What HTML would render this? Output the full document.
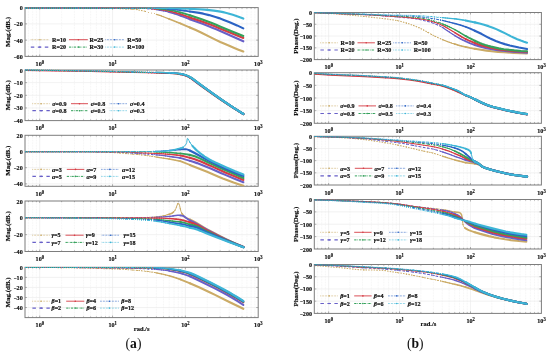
<!DOCTYPE html>
<html><head><meta charset="utf-8"><title>Bode plots</title><style>
html,body{margin:0;padding:0;background:#fff;}
svg{display:block;}
text{stroke:#111;stroke-width:0.16px;font-family:"Liberation Serif","Times New Roman",serif;fill:#111;}
.gM{stroke:#e9e9e9;stroke-width:0.6;fill:none;}
.gm{stroke:#ececec;stroke-width:0.6;stroke-dasharray:0.8 0.8;fill:none;}
.tk{stroke:#7d7d7d;stroke-width:0.6;fill:none;}
.ax{stroke:#7d7d7d;stroke-width:1.0;fill:none;}
.yl{font-size:6.1px;font-weight:bold;text-anchor:end;}
.xl{font-size:6.1px;font-weight:bold;text-anchor:middle;}
.sup{font-size:4.6px;}
.lab{font-size:6.5px;font-weight:bold;text-anchor:middle;}
.big{font-size:13.6px;text-anchor:middle;stroke:none;}
.lg{font-size:6.1px;font-weight:bold;stroke-width:0.2px;}
.gk{font-style:italic;}
</style></head>
<body><svg width="550" height="353" viewBox="0 0 550 353">
<line x1="28.43" y1="7.6" x2="28.43" y2="56.4" class="gm"/>
<line x1="32.65" y1="7.6" x2="32.65" y2="56.4" class="gm"/>
<line x1="36.38" y1="7.6" x2="36.38" y2="56.4" class="gm"/>
<line x1="61.64" y1="7.6" x2="61.64" y2="56.4" class="gm"/>
<line x1="74.46" y1="7.6" x2="74.46" y2="56.4" class="gm"/>
<line x1="83.56" y1="7.6" x2="83.56" y2="56.4" class="gm"/>
<line x1="90.62" y1="7.6" x2="90.62" y2="56.4" class="gm"/>
<line x1="96.38" y1="7.6" x2="96.38" y2="56.4" class="gm"/>
<line x1="101.26" y1="7.6" x2="101.26" y2="56.4" class="gm"/>
<line x1="105.48" y1="7.6" x2="105.48" y2="56.4" class="gm"/>
<line x1="109.21" y1="7.6" x2="109.21" y2="56.4" class="gm"/>
<line x1="134.46" y1="7.6" x2="134.46" y2="56.4" class="gm"/>
<line x1="147.29" y1="7.6" x2="147.29" y2="56.4" class="gm"/>
<line x1="156.39" y1="7.6" x2="156.39" y2="56.4" class="gm"/>
<line x1="163.45" y1="7.6" x2="163.45" y2="56.4" class="gm"/>
<line x1="169.21" y1="7.6" x2="169.21" y2="56.4" class="gm"/>
<line x1="174.09" y1="7.6" x2="174.09" y2="56.4" class="gm"/>
<line x1="178.31" y1="7.6" x2="178.31" y2="56.4" class="gm"/>
<line x1="182.04" y1="7.6" x2="182.04" y2="56.4" class="gm"/>
<line x1="207.29" y1="7.6" x2="207.29" y2="56.4" class="gm"/>
<line x1="220.12" y1="7.6" x2="220.12" y2="56.4" class="gm"/>
<line x1="229.22" y1="7.6" x2="229.22" y2="56.4" class="gm"/>
<line x1="236.28" y1="7.6" x2="236.28" y2="56.4" class="gm"/>
<line x1="242.04" y1="7.6" x2="242.04" y2="56.4" class="gm"/>
<line x1="246.92" y1="7.6" x2="246.92" y2="56.4" class="gm"/>
<line x1="251.14" y1="7.6" x2="251.14" y2="56.4" class="gm"/>
<line x1="254.87" y1="7.6" x2="254.87" y2="56.4" class="gm"/>
<line x1="39.71" y1="7.6" x2="39.71" y2="56.4" class="gM"/>
<line x1="112.54" y1="7.6" x2="112.54" y2="56.4" class="gM"/>
<line x1="185.37" y1="7.6" x2="185.37" y2="56.4" class="gM"/>
<line x1="25" y1="40.13" x2="258.2" y2="40.13" class="gM"/>
<line x1="25" y1="23.87" x2="258.2" y2="23.87" class="gM"/>
<line x1="28.43" y1="70" x2="28.43" y2="120.6" class="gm"/>
<line x1="32.65" y1="70" x2="32.65" y2="120.6" class="gm"/>
<line x1="36.38" y1="70" x2="36.38" y2="120.6" class="gm"/>
<line x1="61.64" y1="70" x2="61.64" y2="120.6" class="gm"/>
<line x1="74.46" y1="70" x2="74.46" y2="120.6" class="gm"/>
<line x1="83.56" y1="70" x2="83.56" y2="120.6" class="gm"/>
<line x1="90.62" y1="70" x2="90.62" y2="120.6" class="gm"/>
<line x1="96.38" y1="70" x2="96.38" y2="120.6" class="gm"/>
<line x1="101.26" y1="70" x2="101.26" y2="120.6" class="gm"/>
<line x1="105.48" y1="70" x2="105.48" y2="120.6" class="gm"/>
<line x1="109.21" y1="70" x2="109.21" y2="120.6" class="gm"/>
<line x1="134.46" y1="70" x2="134.46" y2="120.6" class="gm"/>
<line x1="147.29" y1="70" x2="147.29" y2="120.6" class="gm"/>
<line x1="156.39" y1="70" x2="156.39" y2="120.6" class="gm"/>
<line x1="163.45" y1="70" x2="163.45" y2="120.6" class="gm"/>
<line x1="169.21" y1="70" x2="169.21" y2="120.6" class="gm"/>
<line x1="174.09" y1="70" x2="174.09" y2="120.6" class="gm"/>
<line x1="178.31" y1="70" x2="178.31" y2="120.6" class="gm"/>
<line x1="182.04" y1="70" x2="182.04" y2="120.6" class="gm"/>
<line x1="207.29" y1="70" x2="207.29" y2="120.6" class="gm"/>
<line x1="220.12" y1="70" x2="220.12" y2="120.6" class="gm"/>
<line x1="229.22" y1="70" x2="229.22" y2="120.6" class="gm"/>
<line x1="236.28" y1="70" x2="236.28" y2="120.6" class="gm"/>
<line x1="242.04" y1="70" x2="242.04" y2="120.6" class="gm"/>
<line x1="246.92" y1="70" x2="246.92" y2="120.6" class="gm"/>
<line x1="251.14" y1="70" x2="251.14" y2="120.6" class="gm"/>
<line x1="254.87" y1="70" x2="254.87" y2="120.6" class="gm"/>
<line x1="39.71" y1="70" x2="39.71" y2="120.6" class="gM"/>
<line x1="112.54" y1="70" x2="112.54" y2="120.6" class="gM"/>
<line x1="185.37" y1="70" x2="185.37" y2="120.6" class="gM"/>
<line x1="25" y1="107.95" x2="258.2" y2="107.95" class="gM"/>
<line x1="25" y1="95.3" x2="258.2" y2="95.3" class="gM"/>
<line x1="25" y1="82.65" x2="258.2" y2="82.65" class="gM"/>
<line x1="28.43" y1="135.3" x2="28.43" y2="186.3" class="gm"/>
<line x1="32.65" y1="135.3" x2="32.65" y2="186.3" class="gm"/>
<line x1="36.38" y1="135.3" x2="36.38" y2="186.3" class="gm"/>
<line x1="61.64" y1="135.3" x2="61.64" y2="186.3" class="gm"/>
<line x1="74.46" y1="135.3" x2="74.46" y2="186.3" class="gm"/>
<line x1="83.56" y1="135.3" x2="83.56" y2="186.3" class="gm"/>
<line x1="90.62" y1="135.3" x2="90.62" y2="186.3" class="gm"/>
<line x1="96.38" y1="135.3" x2="96.38" y2="186.3" class="gm"/>
<line x1="101.26" y1="135.3" x2="101.26" y2="186.3" class="gm"/>
<line x1="105.48" y1="135.3" x2="105.48" y2="186.3" class="gm"/>
<line x1="109.21" y1="135.3" x2="109.21" y2="186.3" class="gm"/>
<line x1="134.46" y1="135.3" x2="134.46" y2="186.3" class="gm"/>
<line x1="147.29" y1="135.3" x2="147.29" y2="186.3" class="gm"/>
<line x1="156.39" y1="135.3" x2="156.39" y2="186.3" class="gm"/>
<line x1="163.45" y1="135.3" x2="163.45" y2="186.3" class="gm"/>
<line x1="169.21" y1="135.3" x2="169.21" y2="186.3" class="gm"/>
<line x1="174.09" y1="135.3" x2="174.09" y2="186.3" class="gm"/>
<line x1="178.31" y1="135.3" x2="178.31" y2="186.3" class="gm"/>
<line x1="182.04" y1="135.3" x2="182.04" y2="186.3" class="gm"/>
<line x1="207.29" y1="135.3" x2="207.29" y2="186.3" class="gm"/>
<line x1="220.12" y1="135.3" x2="220.12" y2="186.3" class="gm"/>
<line x1="229.22" y1="135.3" x2="229.22" y2="186.3" class="gm"/>
<line x1="236.28" y1="135.3" x2="236.28" y2="186.3" class="gm"/>
<line x1="242.04" y1="135.3" x2="242.04" y2="186.3" class="gm"/>
<line x1="246.92" y1="135.3" x2="246.92" y2="186.3" class="gm"/>
<line x1="251.14" y1="135.3" x2="251.14" y2="186.3" class="gm"/>
<line x1="254.87" y1="135.3" x2="254.87" y2="186.3" class="gm"/>
<line x1="39.71" y1="135.3" x2="39.71" y2="186.3" class="gM"/>
<line x1="112.54" y1="135.3" x2="112.54" y2="186.3" class="gM"/>
<line x1="185.37" y1="135.3" x2="185.37" y2="186.3" class="gM"/>
<line x1="25" y1="183.87" x2="258.2" y2="183.87" class="gM"/>
<line x1="25" y1="167.68" x2="258.2" y2="167.68" class="gM"/>
<line x1="25" y1="151.49" x2="258.2" y2="151.49" class="gM"/>
<line x1="28.43" y1="201" x2="28.43" y2="251.5" class="gm"/>
<line x1="32.65" y1="201" x2="32.65" y2="251.5" class="gm"/>
<line x1="36.38" y1="201" x2="36.38" y2="251.5" class="gm"/>
<line x1="61.64" y1="201" x2="61.64" y2="251.5" class="gm"/>
<line x1="74.46" y1="201" x2="74.46" y2="251.5" class="gm"/>
<line x1="83.56" y1="201" x2="83.56" y2="251.5" class="gm"/>
<line x1="90.62" y1="201" x2="90.62" y2="251.5" class="gm"/>
<line x1="96.38" y1="201" x2="96.38" y2="251.5" class="gm"/>
<line x1="101.26" y1="201" x2="101.26" y2="251.5" class="gm"/>
<line x1="105.48" y1="201" x2="105.48" y2="251.5" class="gm"/>
<line x1="109.21" y1="201" x2="109.21" y2="251.5" class="gm"/>
<line x1="134.46" y1="201" x2="134.46" y2="251.5" class="gm"/>
<line x1="147.29" y1="201" x2="147.29" y2="251.5" class="gm"/>
<line x1="156.39" y1="201" x2="156.39" y2="251.5" class="gm"/>
<line x1="163.45" y1="201" x2="163.45" y2="251.5" class="gm"/>
<line x1="169.21" y1="201" x2="169.21" y2="251.5" class="gm"/>
<line x1="174.09" y1="201" x2="174.09" y2="251.5" class="gm"/>
<line x1="178.31" y1="201" x2="178.31" y2="251.5" class="gm"/>
<line x1="182.04" y1="201" x2="182.04" y2="251.5" class="gm"/>
<line x1="207.29" y1="201" x2="207.29" y2="251.5" class="gm"/>
<line x1="220.12" y1="201" x2="220.12" y2="251.5" class="gm"/>
<line x1="229.22" y1="201" x2="229.22" y2="251.5" class="gm"/>
<line x1="236.28" y1="201" x2="236.28" y2="251.5" class="gm"/>
<line x1="242.04" y1="201" x2="242.04" y2="251.5" class="gm"/>
<line x1="246.92" y1="201" x2="246.92" y2="251.5" class="gm"/>
<line x1="251.14" y1="201" x2="251.14" y2="251.5" class="gm"/>
<line x1="254.87" y1="201" x2="254.87" y2="251.5" class="gm"/>
<line x1="39.71" y1="201" x2="39.71" y2="251.5" class="gM"/>
<line x1="112.54" y1="201" x2="112.54" y2="251.5" class="gM"/>
<line x1="185.37" y1="201" x2="185.37" y2="251.5" class="gM"/>
<line x1="25" y1="234.67" x2="258.2" y2="234.67" class="gM"/>
<line x1="25" y1="217.83" x2="258.2" y2="217.83" class="gM"/>
<line x1="28.43" y1="267.3" x2="28.43" y2="317.6" class="gm"/>
<line x1="32.65" y1="267.3" x2="32.65" y2="317.6" class="gm"/>
<line x1="36.38" y1="267.3" x2="36.38" y2="317.6" class="gm"/>
<line x1="61.64" y1="267.3" x2="61.64" y2="317.6" class="gm"/>
<line x1="74.46" y1="267.3" x2="74.46" y2="317.6" class="gm"/>
<line x1="83.56" y1="267.3" x2="83.56" y2="317.6" class="gm"/>
<line x1="90.62" y1="267.3" x2="90.62" y2="317.6" class="gm"/>
<line x1="96.38" y1="267.3" x2="96.38" y2="317.6" class="gm"/>
<line x1="101.26" y1="267.3" x2="101.26" y2="317.6" class="gm"/>
<line x1="105.48" y1="267.3" x2="105.48" y2="317.6" class="gm"/>
<line x1="109.21" y1="267.3" x2="109.21" y2="317.6" class="gm"/>
<line x1="134.46" y1="267.3" x2="134.46" y2="317.6" class="gm"/>
<line x1="147.29" y1="267.3" x2="147.29" y2="317.6" class="gm"/>
<line x1="156.39" y1="267.3" x2="156.39" y2="317.6" class="gm"/>
<line x1="163.45" y1="267.3" x2="163.45" y2="317.6" class="gm"/>
<line x1="169.21" y1="267.3" x2="169.21" y2="317.6" class="gm"/>
<line x1="174.09" y1="267.3" x2="174.09" y2="317.6" class="gm"/>
<line x1="178.31" y1="267.3" x2="178.31" y2="317.6" class="gm"/>
<line x1="182.04" y1="267.3" x2="182.04" y2="317.6" class="gm"/>
<line x1="207.29" y1="267.3" x2="207.29" y2="317.6" class="gm"/>
<line x1="220.12" y1="267.3" x2="220.12" y2="317.6" class="gm"/>
<line x1="229.22" y1="267.3" x2="229.22" y2="317.6" class="gm"/>
<line x1="236.28" y1="267.3" x2="236.28" y2="317.6" class="gm"/>
<line x1="242.04" y1="267.3" x2="242.04" y2="317.6" class="gm"/>
<line x1="246.92" y1="267.3" x2="246.92" y2="317.6" class="gm"/>
<line x1="251.14" y1="267.3" x2="251.14" y2="317.6" class="gm"/>
<line x1="254.87" y1="267.3" x2="254.87" y2="317.6" class="gm"/>
<line x1="39.71" y1="267.3" x2="39.71" y2="317.6" class="gM"/>
<line x1="112.54" y1="267.3" x2="112.54" y2="317.6" class="gM"/>
<line x1="185.37" y1="267.3" x2="185.37" y2="317.6" class="gM"/>
<line x1="25" y1="307.54" x2="258.2" y2="307.54" class="gM"/>
<line x1="25" y1="297.48" x2="258.2" y2="297.48" class="gM"/>
<line x1="25" y1="287.42" x2="258.2" y2="287.42" class="gM"/>
<line x1="25" y1="277.36" x2="258.2" y2="277.36" class="gM"/>
<line x1="317.64" y1="12.5" x2="317.64" y2="59.6" class="gm"/>
<line x1="321.75" y1="12.5" x2="321.75" y2="59.6" class="gm"/>
<line x1="325.38" y1="12.5" x2="325.38" y2="59.6" class="gm"/>
<line x1="349.98" y1="12.5" x2="349.98" y2="59.6" class="gm"/>
<line x1="362.47" y1="12.5" x2="362.47" y2="59.6" class="gm"/>
<line x1="371.33" y1="12.5" x2="371.33" y2="59.6" class="gm"/>
<line x1="378.2" y1="12.5" x2="378.2" y2="59.6" class="gm"/>
<line x1="383.82" y1="12.5" x2="383.82" y2="59.6" class="gm"/>
<line x1="388.56" y1="12.5" x2="388.56" y2="59.6" class="gm"/>
<line x1="392.68" y1="12.5" x2="392.68" y2="59.6" class="gm"/>
<line x1="396.31" y1="12.5" x2="396.31" y2="59.6" class="gm"/>
<line x1="420.9" y1="12.5" x2="420.9" y2="59.6" class="gm"/>
<line x1="433.39" y1="12.5" x2="433.39" y2="59.6" class="gm"/>
<line x1="442.25" y1="12.5" x2="442.25" y2="59.6" class="gm"/>
<line x1="449.13" y1="12.5" x2="449.13" y2="59.6" class="gm"/>
<line x1="454.74" y1="12.5" x2="454.74" y2="59.6" class="gm"/>
<line x1="459.49" y1="12.5" x2="459.49" y2="59.6" class="gm"/>
<line x1="463.6" y1="12.5" x2="463.6" y2="59.6" class="gm"/>
<line x1="467.23" y1="12.5" x2="467.23" y2="59.6" class="gm"/>
<line x1="491.83" y1="12.5" x2="491.83" y2="59.6" class="gm"/>
<line x1="504.32" y1="12.5" x2="504.32" y2="59.6" class="gm"/>
<line x1="513.18" y1="12.5" x2="513.18" y2="59.6" class="gm"/>
<line x1="520.05" y1="12.5" x2="520.05" y2="59.6" class="gm"/>
<line x1="525.67" y1="12.5" x2="525.67" y2="59.6" class="gm"/>
<line x1="530.41" y1="12.5" x2="530.41" y2="59.6" class="gm"/>
<line x1="534.53" y1="12.5" x2="534.53" y2="59.6" class="gm"/>
<line x1="538.15" y1="12.5" x2="538.15" y2="59.6" class="gm"/>
<line x1="328.63" y1="12.5" x2="328.63" y2="59.6" class="gM"/>
<line x1="399.55" y1="12.5" x2="399.55" y2="59.6" class="gM"/>
<line x1="470.48" y1="12.5" x2="470.48" y2="59.6" class="gM"/>
<line x1="314.3" y1="47.83" x2="541.4" y2="47.83" class="gM"/>
<line x1="314.3" y1="36.05" x2="541.4" y2="36.05" class="gM"/>
<line x1="314.3" y1="24.27" x2="541.4" y2="24.27" class="gM"/>
<line x1="317.64" y1="72.7" x2="317.64" y2="123.3" class="gm"/>
<line x1="321.75" y1="72.7" x2="321.75" y2="123.3" class="gm"/>
<line x1="325.38" y1="72.7" x2="325.38" y2="123.3" class="gm"/>
<line x1="349.98" y1="72.7" x2="349.98" y2="123.3" class="gm"/>
<line x1="362.47" y1="72.7" x2="362.47" y2="123.3" class="gm"/>
<line x1="371.33" y1="72.7" x2="371.33" y2="123.3" class="gm"/>
<line x1="378.2" y1="72.7" x2="378.2" y2="123.3" class="gm"/>
<line x1="383.82" y1="72.7" x2="383.82" y2="123.3" class="gm"/>
<line x1="388.56" y1="72.7" x2="388.56" y2="123.3" class="gm"/>
<line x1="392.68" y1="72.7" x2="392.68" y2="123.3" class="gm"/>
<line x1="396.31" y1="72.7" x2="396.31" y2="123.3" class="gm"/>
<line x1="420.9" y1="72.7" x2="420.9" y2="123.3" class="gm"/>
<line x1="433.39" y1="72.7" x2="433.39" y2="123.3" class="gm"/>
<line x1="442.25" y1="72.7" x2="442.25" y2="123.3" class="gm"/>
<line x1="449.13" y1="72.7" x2="449.13" y2="123.3" class="gm"/>
<line x1="454.74" y1="72.7" x2="454.74" y2="123.3" class="gm"/>
<line x1="459.49" y1="72.7" x2="459.49" y2="123.3" class="gm"/>
<line x1="463.6" y1="72.7" x2="463.6" y2="123.3" class="gm"/>
<line x1="467.23" y1="72.7" x2="467.23" y2="123.3" class="gm"/>
<line x1="491.83" y1="72.7" x2="491.83" y2="123.3" class="gm"/>
<line x1="504.32" y1="72.7" x2="504.32" y2="123.3" class="gm"/>
<line x1="513.18" y1="72.7" x2="513.18" y2="123.3" class="gm"/>
<line x1="520.05" y1="72.7" x2="520.05" y2="123.3" class="gm"/>
<line x1="525.67" y1="72.7" x2="525.67" y2="123.3" class="gm"/>
<line x1="530.41" y1="72.7" x2="530.41" y2="123.3" class="gm"/>
<line x1="534.53" y1="72.7" x2="534.53" y2="123.3" class="gm"/>
<line x1="538.15" y1="72.7" x2="538.15" y2="123.3" class="gm"/>
<line x1="328.63" y1="72.7" x2="328.63" y2="123.3" class="gM"/>
<line x1="399.55" y1="72.7" x2="399.55" y2="123.3" class="gM"/>
<line x1="470.48" y1="72.7" x2="470.48" y2="123.3" class="gM"/>
<line x1="314.3" y1="110.65" x2="541.4" y2="110.65" class="gM"/>
<line x1="314.3" y1="98" x2="541.4" y2="98" class="gM"/>
<line x1="314.3" y1="85.35" x2="541.4" y2="85.35" class="gM"/>
<line x1="317.64" y1="136.3" x2="317.64" y2="185" class="gm"/>
<line x1="321.75" y1="136.3" x2="321.75" y2="185" class="gm"/>
<line x1="325.38" y1="136.3" x2="325.38" y2="185" class="gm"/>
<line x1="349.98" y1="136.3" x2="349.98" y2="185" class="gm"/>
<line x1="362.47" y1="136.3" x2="362.47" y2="185" class="gm"/>
<line x1="371.33" y1="136.3" x2="371.33" y2="185" class="gm"/>
<line x1="378.2" y1="136.3" x2="378.2" y2="185" class="gm"/>
<line x1="383.82" y1="136.3" x2="383.82" y2="185" class="gm"/>
<line x1="388.56" y1="136.3" x2="388.56" y2="185" class="gm"/>
<line x1="392.68" y1="136.3" x2="392.68" y2="185" class="gm"/>
<line x1="396.31" y1="136.3" x2="396.31" y2="185" class="gm"/>
<line x1="420.9" y1="136.3" x2="420.9" y2="185" class="gm"/>
<line x1="433.39" y1="136.3" x2="433.39" y2="185" class="gm"/>
<line x1="442.25" y1="136.3" x2="442.25" y2="185" class="gm"/>
<line x1="449.13" y1="136.3" x2="449.13" y2="185" class="gm"/>
<line x1="454.74" y1="136.3" x2="454.74" y2="185" class="gm"/>
<line x1="459.49" y1="136.3" x2="459.49" y2="185" class="gm"/>
<line x1="463.6" y1="136.3" x2="463.6" y2="185" class="gm"/>
<line x1="467.23" y1="136.3" x2="467.23" y2="185" class="gm"/>
<line x1="491.83" y1="136.3" x2="491.83" y2="185" class="gm"/>
<line x1="504.32" y1="136.3" x2="504.32" y2="185" class="gm"/>
<line x1="513.18" y1="136.3" x2="513.18" y2="185" class="gm"/>
<line x1="520.05" y1="136.3" x2="520.05" y2="185" class="gm"/>
<line x1="525.67" y1="136.3" x2="525.67" y2="185" class="gm"/>
<line x1="530.41" y1="136.3" x2="530.41" y2="185" class="gm"/>
<line x1="534.53" y1="136.3" x2="534.53" y2="185" class="gm"/>
<line x1="538.15" y1="136.3" x2="538.15" y2="185" class="gm"/>
<line x1="328.63" y1="136.3" x2="328.63" y2="185" class="gM"/>
<line x1="399.55" y1="136.3" x2="399.55" y2="185" class="gM"/>
<line x1="470.48" y1="136.3" x2="470.48" y2="185" class="gM"/>
<line x1="314.3" y1="172.82" x2="541.4" y2="172.82" class="gM"/>
<line x1="314.3" y1="160.65" x2="541.4" y2="160.65" class="gM"/>
<line x1="314.3" y1="148.48" x2="541.4" y2="148.48" class="gM"/>
<line x1="317.64" y1="199.5" x2="317.64" y2="249" class="gm"/>
<line x1="321.75" y1="199.5" x2="321.75" y2="249" class="gm"/>
<line x1="325.38" y1="199.5" x2="325.38" y2="249" class="gm"/>
<line x1="349.98" y1="199.5" x2="349.98" y2="249" class="gm"/>
<line x1="362.47" y1="199.5" x2="362.47" y2="249" class="gm"/>
<line x1="371.33" y1="199.5" x2="371.33" y2="249" class="gm"/>
<line x1="378.2" y1="199.5" x2="378.2" y2="249" class="gm"/>
<line x1="383.82" y1="199.5" x2="383.82" y2="249" class="gm"/>
<line x1="388.56" y1="199.5" x2="388.56" y2="249" class="gm"/>
<line x1="392.68" y1="199.5" x2="392.68" y2="249" class="gm"/>
<line x1="396.31" y1="199.5" x2="396.31" y2="249" class="gm"/>
<line x1="420.9" y1="199.5" x2="420.9" y2="249" class="gm"/>
<line x1="433.39" y1="199.5" x2="433.39" y2="249" class="gm"/>
<line x1="442.25" y1="199.5" x2="442.25" y2="249" class="gm"/>
<line x1="449.13" y1="199.5" x2="449.13" y2="249" class="gm"/>
<line x1="454.74" y1="199.5" x2="454.74" y2="249" class="gm"/>
<line x1="459.49" y1="199.5" x2="459.49" y2="249" class="gm"/>
<line x1="463.6" y1="199.5" x2="463.6" y2="249" class="gm"/>
<line x1="467.23" y1="199.5" x2="467.23" y2="249" class="gm"/>
<line x1="491.83" y1="199.5" x2="491.83" y2="249" class="gm"/>
<line x1="504.32" y1="199.5" x2="504.32" y2="249" class="gm"/>
<line x1="513.18" y1="199.5" x2="513.18" y2="249" class="gm"/>
<line x1="520.05" y1="199.5" x2="520.05" y2="249" class="gm"/>
<line x1="525.67" y1="199.5" x2="525.67" y2="249" class="gm"/>
<line x1="530.41" y1="199.5" x2="530.41" y2="249" class="gm"/>
<line x1="534.53" y1="199.5" x2="534.53" y2="249" class="gm"/>
<line x1="538.15" y1="199.5" x2="538.15" y2="249" class="gm"/>
<line x1="328.63" y1="199.5" x2="328.63" y2="249" class="gM"/>
<line x1="399.55" y1="199.5" x2="399.55" y2="249" class="gM"/>
<line x1="470.48" y1="199.5" x2="470.48" y2="249" class="gM"/>
<line x1="314.3" y1="236.62" x2="541.4" y2="236.62" class="gM"/>
<line x1="314.3" y1="224.25" x2="541.4" y2="224.25" class="gM"/>
<line x1="314.3" y1="211.88" x2="541.4" y2="211.88" class="gM"/>
<line x1="317.64" y1="264.5" x2="317.64" y2="313.4" class="gm"/>
<line x1="321.75" y1="264.5" x2="321.75" y2="313.4" class="gm"/>
<line x1="325.38" y1="264.5" x2="325.38" y2="313.4" class="gm"/>
<line x1="349.98" y1="264.5" x2="349.98" y2="313.4" class="gm"/>
<line x1="362.47" y1="264.5" x2="362.47" y2="313.4" class="gm"/>
<line x1="371.33" y1="264.5" x2="371.33" y2="313.4" class="gm"/>
<line x1="378.2" y1="264.5" x2="378.2" y2="313.4" class="gm"/>
<line x1="383.82" y1="264.5" x2="383.82" y2="313.4" class="gm"/>
<line x1="388.56" y1="264.5" x2="388.56" y2="313.4" class="gm"/>
<line x1="392.68" y1="264.5" x2="392.68" y2="313.4" class="gm"/>
<line x1="396.31" y1="264.5" x2="396.31" y2="313.4" class="gm"/>
<line x1="420.9" y1="264.5" x2="420.9" y2="313.4" class="gm"/>
<line x1="433.39" y1="264.5" x2="433.39" y2="313.4" class="gm"/>
<line x1="442.25" y1="264.5" x2="442.25" y2="313.4" class="gm"/>
<line x1="449.13" y1="264.5" x2="449.13" y2="313.4" class="gm"/>
<line x1="454.74" y1="264.5" x2="454.74" y2="313.4" class="gm"/>
<line x1="459.49" y1="264.5" x2="459.49" y2="313.4" class="gm"/>
<line x1="463.6" y1="264.5" x2="463.6" y2="313.4" class="gm"/>
<line x1="467.23" y1="264.5" x2="467.23" y2="313.4" class="gm"/>
<line x1="491.83" y1="264.5" x2="491.83" y2="313.4" class="gm"/>
<line x1="504.32" y1="264.5" x2="504.32" y2="313.4" class="gm"/>
<line x1="513.18" y1="264.5" x2="513.18" y2="313.4" class="gm"/>
<line x1="520.05" y1="264.5" x2="520.05" y2="313.4" class="gm"/>
<line x1="525.67" y1="264.5" x2="525.67" y2="313.4" class="gm"/>
<line x1="530.41" y1="264.5" x2="530.41" y2="313.4" class="gm"/>
<line x1="534.53" y1="264.5" x2="534.53" y2="313.4" class="gm"/>
<line x1="538.15" y1="264.5" x2="538.15" y2="313.4" class="gm"/>
<line x1="328.63" y1="264.5" x2="328.63" y2="313.4" class="gM"/>
<line x1="399.55" y1="264.5" x2="399.55" y2="313.4" class="gM"/>
<line x1="470.48" y1="264.5" x2="470.48" y2="313.4" class="gM"/>
<line x1="314.3" y1="301.17" x2="541.4" y2="301.17" class="gM"/>
<line x1="314.3" y1="288.95" x2="541.4" y2="288.95" class="gM"/>
<line x1="314.3" y1="276.73" x2="541.4" y2="276.73" class="gM"/>
<path d="M28.43 56.4v-1.2M28.43 7.6v1.2M32.65 56.4v-1.2M32.65 7.6v1.2M36.38 56.4v-1.2M36.38 7.6v1.2M39.71 56.4v-2.0M39.71 7.6v2.0M61.64 56.4v-1.2M61.64 7.6v1.2M74.46 56.4v-1.2M74.46 7.6v1.2M83.56 56.4v-1.2M83.56 7.6v1.2M90.62 56.4v-1.2M90.62 7.6v1.2M96.38 56.4v-1.2M96.38 7.6v1.2M101.26 56.4v-1.2M101.26 7.6v1.2M105.48 56.4v-1.2M105.48 7.6v1.2M109.21 56.4v-1.2M109.21 7.6v1.2M112.54 56.4v-2.0M112.54 7.6v2.0M134.46 56.4v-1.2M134.46 7.6v1.2M147.29 56.4v-1.2M147.29 7.6v1.2M156.39 56.4v-1.2M156.39 7.6v1.2M163.45 56.4v-1.2M163.45 7.6v1.2M169.21 56.4v-1.2M169.21 7.6v1.2M174.09 56.4v-1.2M174.09 7.6v1.2M178.31 56.4v-1.2M178.31 7.6v1.2M182.04 56.4v-1.2M182.04 7.6v1.2M185.37 56.4v-2.0M185.37 7.6v2.0M207.29 56.4v-1.2M207.29 7.6v1.2M220.12 56.4v-1.2M220.12 7.6v1.2M229.22 56.4v-1.2M229.22 7.6v1.2M236.28 56.4v-1.2M236.28 7.6v1.2M242.04 56.4v-1.2M242.04 7.6v1.2M246.92 56.4v-1.2M246.92 7.6v1.2M251.14 56.4v-1.2M251.14 7.6v1.2M254.87 56.4v-1.2M254.87 7.6v1.2M25 40.13h2.0M258.2 40.13h-2.0M25 23.87h2.0M258.2 23.87h-2.0" class="tk"/><rect x="25" y="7.6" width="233.2" height="48.8" class="ax"/><text transform="translate(22.70,58.90) scale(1,1.15)" class="yl"><tspan font-size="5.2px" dy="-0.25">−</tspan><tspan dy="0.25">60</tspan></text><text transform="translate(22.70,42.63) scale(1,1.15)" class="yl"><tspan font-size="5.2px" dy="-0.25">−</tspan><tspan dy="0.25">40</tspan></text><text transform="translate(22.70,26.37) scale(1,1.15)" class="yl"><tspan font-size="5.2px" dy="-0.25">−</tspan><tspan dy="0.25">20</tspan></text><text transform="translate(22.70,10.10) scale(1,1.15)" class="yl">0</text><text transform="translate(39.81,66.10) scale(1,1.12)" class="xl">10<tspan dy="-1.9" class="sup">0</tspan></text><text transform="translate(112.64,66.10) scale(1,1.12)" class="xl">10<tspan dy="-1.9" class="sup">1</tspan></text><text transform="translate(185.47,66.10) scale(1,1.12)" class="xl">10<tspan dy="-1.9" class="sup">2</tspan></text><text transform="translate(258.30,66.10) scale(1,1.12)" class="xl">10<tspan dy="-1.9" class="sup">3</tspan></text><text transform="translate(9.6,32) rotate(-90) scale(1.07,1)" class="lab">Mag.(dB.)</text>
<path d="M28.43 120.6v-1.2M28.43 70v1.2M32.65 120.6v-1.2M32.65 70v1.2M36.38 120.6v-1.2M36.38 70v1.2M39.71 120.6v-2.0M39.71 70v2.0M61.64 120.6v-1.2M61.64 70v1.2M74.46 120.6v-1.2M74.46 70v1.2M83.56 120.6v-1.2M83.56 70v1.2M90.62 120.6v-1.2M90.62 70v1.2M96.38 120.6v-1.2M96.38 70v1.2M101.26 120.6v-1.2M101.26 70v1.2M105.48 120.6v-1.2M105.48 70v1.2M109.21 120.6v-1.2M109.21 70v1.2M112.54 120.6v-2.0M112.54 70v2.0M134.46 120.6v-1.2M134.46 70v1.2M147.29 120.6v-1.2M147.29 70v1.2M156.39 120.6v-1.2M156.39 70v1.2M163.45 120.6v-1.2M163.45 70v1.2M169.21 120.6v-1.2M169.21 70v1.2M174.09 120.6v-1.2M174.09 70v1.2M178.31 120.6v-1.2M178.31 70v1.2M182.04 120.6v-1.2M182.04 70v1.2M185.37 120.6v-2.0M185.37 70v2.0M207.29 120.6v-1.2M207.29 70v1.2M220.12 120.6v-1.2M220.12 70v1.2M229.22 120.6v-1.2M229.22 70v1.2M236.28 120.6v-1.2M236.28 70v1.2M242.04 120.6v-1.2M242.04 70v1.2M246.92 120.6v-1.2M246.92 70v1.2M251.14 120.6v-1.2M251.14 70v1.2M254.87 120.6v-1.2M254.87 70v1.2M25 107.95h2.0M258.2 107.95h-2.0M25 95.3h2.0M258.2 95.3h-2.0M25 82.65h2.0M258.2 82.65h-2.0" class="tk"/><rect x="25" y="70" width="233.2" height="50.6" class="ax"/><text transform="translate(22.70,123.10) scale(1,1.15)" class="yl"><tspan font-size="5.2px" dy="-0.25">−</tspan><tspan dy="0.25">40</tspan></text><text transform="translate(22.70,110.45) scale(1,1.15)" class="yl"><tspan font-size="5.2px" dy="-0.25">−</tspan><tspan dy="0.25">30</tspan></text><text transform="translate(22.70,97.80) scale(1,1.15)" class="yl"><tspan font-size="5.2px" dy="-0.25">−</tspan><tspan dy="0.25">20</tspan></text><text transform="translate(22.70,85.15) scale(1,1.15)" class="yl"><tspan font-size="5.2px" dy="-0.25">−</tspan><tspan dy="0.25">10</tspan></text><text transform="translate(22.70,72.50) scale(1,1.15)" class="yl">0</text><text transform="translate(39.81,130.30) scale(1,1.12)" class="xl">10<tspan dy="-1.9" class="sup">0</tspan></text><text transform="translate(112.64,130.30) scale(1,1.12)" class="xl">10<tspan dy="-1.9" class="sup">1</tspan></text><text transform="translate(185.47,130.30) scale(1,1.12)" class="xl">10<tspan dy="-1.9" class="sup">2</tspan></text><text transform="translate(258.30,130.30) scale(1,1.12)" class="xl">10<tspan dy="-1.9" class="sup">3</tspan></text><text transform="translate(9.6,95.3) rotate(-90) scale(1.07,1)" class="lab">Mag.(dB.)</text>
<path d="M28.43 186.3v-1.2M28.43 135.3v1.2M32.65 186.3v-1.2M32.65 135.3v1.2M36.38 186.3v-1.2M36.38 135.3v1.2M39.71 186.3v-2.0M39.71 135.3v2.0M61.64 186.3v-1.2M61.64 135.3v1.2M74.46 186.3v-1.2M74.46 135.3v1.2M83.56 186.3v-1.2M83.56 135.3v1.2M90.62 186.3v-1.2M90.62 135.3v1.2M96.38 186.3v-1.2M96.38 135.3v1.2M101.26 186.3v-1.2M101.26 135.3v1.2M105.48 186.3v-1.2M105.48 135.3v1.2M109.21 186.3v-1.2M109.21 135.3v1.2M112.54 186.3v-2.0M112.54 135.3v2.0M134.46 186.3v-1.2M134.46 135.3v1.2M147.29 186.3v-1.2M147.29 135.3v1.2M156.39 186.3v-1.2M156.39 135.3v1.2M163.45 186.3v-1.2M163.45 135.3v1.2M169.21 186.3v-1.2M169.21 135.3v1.2M174.09 186.3v-1.2M174.09 135.3v1.2M178.31 186.3v-1.2M178.31 135.3v1.2M182.04 186.3v-1.2M182.04 135.3v1.2M185.37 186.3v-2.0M185.37 135.3v2.0M207.29 186.3v-1.2M207.29 135.3v1.2M220.12 186.3v-1.2M220.12 135.3v1.2M229.22 186.3v-1.2M229.22 135.3v1.2M236.28 186.3v-1.2M236.28 135.3v1.2M242.04 186.3v-1.2M242.04 135.3v1.2M246.92 186.3v-1.2M246.92 135.3v1.2M251.14 186.3v-1.2M251.14 135.3v1.2M254.87 186.3v-1.2M254.87 135.3v1.2M25 183.87h2.0M258.2 183.87h-2.0M25 167.68h2.0M258.2 167.68h-2.0M25 151.49h2.0M258.2 151.49h-2.0" class="tk"/><rect x="25" y="135.3" width="233.2" height="51" class="ax"/><text transform="translate(22.70,186.37) scale(1,1.15)" class="yl"><tspan font-size="5.2px" dy="-0.25">−</tspan><tspan dy="0.25">40</tspan></text><text transform="translate(22.70,170.18) scale(1,1.15)" class="yl"><tspan font-size="5.2px" dy="-0.25">−</tspan><tspan dy="0.25">20</tspan></text><text transform="translate(22.70,153.99) scale(1,1.15)" class="yl">0</text><text transform="translate(22.70,137.80) scale(1,1.15)" class="yl">20</text><text transform="translate(39.81,196.00) scale(1,1.12)" class="xl">10<tspan dy="-1.9" class="sup">0</tspan></text><text transform="translate(112.64,196.00) scale(1,1.12)" class="xl">10<tspan dy="-1.9" class="sup">1</tspan></text><text transform="translate(185.47,196.00) scale(1,1.12)" class="xl">10<tspan dy="-1.9" class="sup">2</tspan></text><text transform="translate(258.30,196.00) scale(1,1.12)" class="xl">10<tspan dy="-1.9" class="sup">3</tspan></text><text transform="translate(9.6,160.8) rotate(-90) scale(1.07,1)" class="lab">Mag.(dB.)</text>
<path d="M28.43 251.5v-1.2M28.43 201v1.2M32.65 251.5v-1.2M32.65 201v1.2M36.38 251.5v-1.2M36.38 201v1.2M39.71 251.5v-2.0M39.71 201v2.0M61.64 251.5v-1.2M61.64 201v1.2M74.46 251.5v-1.2M74.46 201v1.2M83.56 251.5v-1.2M83.56 201v1.2M90.62 251.5v-1.2M90.62 201v1.2M96.38 251.5v-1.2M96.38 201v1.2M101.26 251.5v-1.2M101.26 201v1.2M105.48 251.5v-1.2M105.48 201v1.2M109.21 251.5v-1.2M109.21 201v1.2M112.54 251.5v-2.0M112.54 201v2.0M134.46 251.5v-1.2M134.46 201v1.2M147.29 251.5v-1.2M147.29 201v1.2M156.39 251.5v-1.2M156.39 201v1.2M163.45 251.5v-1.2M163.45 201v1.2M169.21 251.5v-1.2M169.21 201v1.2M174.09 251.5v-1.2M174.09 201v1.2M178.31 251.5v-1.2M178.31 201v1.2M182.04 251.5v-1.2M182.04 201v1.2M185.37 251.5v-2.0M185.37 201v2.0M207.29 251.5v-1.2M207.29 201v1.2M220.12 251.5v-1.2M220.12 201v1.2M229.22 251.5v-1.2M229.22 201v1.2M236.28 251.5v-1.2M236.28 201v1.2M242.04 251.5v-1.2M242.04 201v1.2M246.92 251.5v-1.2M246.92 201v1.2M251.14 251.5v-1.2M251.14 201v1.2M254.87 251.5v-1.2M254.87 201v1.2M25 234.67h2.0M258.2 234.67h-2.0M25 217.83h2.0M258.2 217.83h-2.0" class="tk"/><rect x="25" y="201" width="233.2" height="50.5" class="ax"/><text transform="translate(22.70,254.00) scale(1,1.15)" class="yl"><tspan font-size="5.2px" dy="-0.25">−</tspan><tspan dy="0.25">40</tspan></text><text transform="translate(22.70,237.17) scale(1,1.15)" class="yl"><tspan font-size="5.2px" dy="-0.25">−</tspan><tspan dy="0.25">20</tspan></text><text transform="translate(22.70,220.33) scale(1,1.15)" class="yl">0</text><text transform="translate(22.70,203.50) scale(1,1.15)" class="yl">20</text><text transform="translate(39.81,261.20) scale(1,1.12)" class="xl">10<tspan dy="-1.9" class="sup">0</tspan></text><text transform="translate(112.64,261.20) scale(1,1.12)" class="xl">10<tspan dy="-1.9" class="sup">1</tspan></text><text transform="translate(185.47,261.20) scale(1,1.12)" class="xl">10<tspan dy="-1.9" class="sup">2</tspan></text><text transform="translate(258.30,261.20) scale(1,1.12)" class="xl">10<tspan dy="-1.9" class="sup">3</tspan></text><text transform="translate(9.6,226.25) rotate(-90) scale(1.07,1)" class="lab">Mag.(dB.)</text>
<path d="M28.43 317.6v-1.2M28.43 267.3v1.2M32.65 317.6v-1.2M32.65 267.3v1.2M36.38 317.6v-1.2M36.38 267.3v1.2M39.71 317.6v-2.0M39.71 267.3v2.0M61.64 317.6v-1.2M61.64 267.3v1.2M74.46 317.6v-1.2M74.46 267.3v1.2M83.56 317.6v-1.2M83.56 267.3v1.2M90.62 317.6v-1.2M90.62 267.3v1.2M96.38 317.6v-1.2M96.38 267.3v1.2M101.26 317.6v-1.2M101.26 267.3v1.2M105.48 317.6v-1.2M105.48 267.3v1.2M109.21 317.6v-1.2M109.21 267.3v1.2M112.54 317.6v-2.0M112.54 267.3v2.0M134.46 317.6v-1.2M134.46 267.3v1.2M147.29 317.6v-1.2M147.29 267.3v1.2M156.39 317.6v-1.2M156.39 267.3v1.2M163.45 317.6v-1.2M163.45 267.3v1.2M169.21 317.6v-1.2M169.21 267.3v1.2M174.09 317.6v-1.2M174.09 267.3v1.2M178.31 317.6v-1.2M178.31 267.3v1.2M182.04 317.6v-1.2M182.04 267.3v1.2M185.37 317.6v-2.0M185.37 267.3v2.0M207.29 317.6v-1.2M207.29 267.3v1.2M220.12 317.6v-1.2M220.12 267.3v1.2M229.22 317.6v-1.2M229.22 267.3v1.2M236.28 317.6v-1.2M236.28 267.3v1.2M242.04 317.6v-1.2M242.04 267.3v1.2M246.92 317.6v-1.2M246.92 267.3v1.2M251.14 317.6v-1.2M251.14 267.3v1.2M254.87 317.6v-1.2M254.87 267.3v1.2M25 307.54h2.0M258.2 307.54h-2.0M25 297.48h2.0M258.2 297.48h-2.0M25 287.42h2.0M258.2 287.42h-2.0M25 277.36h2.0M258.2 277.36h-2.0" class="tk"/><rect x="25" y="267.3" width="233.2" height="50.3" class="ax"/><text transform="translate(22.70,310.04) scale(1,1.15)" class="yl"><tspan font-size="5.2px" dy="-0.25">−</tspan><tspan dy="0.25">40</tspan></text><text transform="translate(22.70,299.98) scale(1,1.15)" class="yl"><tspan font-size="5.2px" dy="-0.25">−</tspan><tspan dy="0.25">30</tspan></text><text transform="translate(22.70,289.92) scale(1,1.15)" class="yl"><tspan font-size="5.2px" dy="-0.25">−</tspan><tspan dy="0.25">20</tspan></text><text transform="translate(22.70,279.86) scale(1,1.15)" class="yl"><tspan font-size="5.2px" dy="-0.25">−</tspan><tspan dy="0.25">10</tspan></text><text transform="translate(22.70,269.80) scale(1,1.15)" class="yl">0</text><text transform="translate(39.81,327.30) scale(1,1.12)" class="xl">10<tspan dy="-1.9" class="sup">0</tspan></text><text transform="translate(112.64,327.30) scale(1,1.12)" class="xl">10<tspan dy="-1.9" class="sup">1</tspan></text><text transform="translate(185.47,327.30) scale(1,1.12)" class="xl">10<tspan dy="-1.9" class="sup">2</tspan></text><text transform="translate(258.30,327.30) scale(1,1.12)" class="xl">10<tspan dy="-1.9" class="sup">3</tspan></text><text transform="translate(9.6,292.45) rotate(-90) scale(1.07,1)" class="lab">Mag.(dB.)</text>
<path d="M317.64 59.6v-1.2M317.64 12.5v1.2M321.75 59.6v-1.2M321.75 12.5v1.2M325.38 59.6v-1.2M325.38 12.5v1.2M328.63 59.6v-2.0M328.63 12.5v2.0M349.98 59.6v-1.2M349.98 12.5v1.2M362.47 59.6v-1.2M362.47 12.5v1.2M371.33 59.6v-1.2M371.33 12.5v1.2M378.2 59.6v-1.2M378.2 12.5v1.2M383.82 59.6v-1.2M383.82 12.5v1.2M388.56 59.6v-1.2M388.56 12.5v1.2M392.68 59.6v-1.2M392.68 12.5v1.2M396.31 59.6v-1.2M396.31 12.5v1.2M399.55 59.6v-2.0M399.55 12.5v2.0M420.9 59.6v-1.2M420.9 12.5v1.2M433.39 59.6v-1.2M433.39 12.5v1.2M442.25 59.6v-1.2M442.25 12.5v1.2M449.13 59.6v-1.2M449.13 12.5v1.2M454.74 59.6v-1.2M454.74 12.5v1.2M459.49 59.6v-1.2M459.49 12.5v1.2M463.6 59.6v-1.2M463.6 12.5v1.2M467.23 59.6v-1.2M467.23 12.5v1.2M470.48 59.6v-2.0M470.48 12.5v2.0M491.83 59.6v-1.2M491.83 12.5v1.2M504.32 59.6v-1.2M504.32 12.5v1.2M513.18 59.6v-1.2M513.18 12.5v1.2M520.05 59.6v-1.2M520.05 12.5v1.2M525.67 59.6v-1.2M525.67 12.5v1.2M530.41 59.6v-1.2M530.41 12.5v1.2M534.53 59.6v-1.2M534.53 12.5v1.2M538.15 59.6v-1.2M538.15 12.5v1.2M314.3 47.83h2.0M541.4 47.83h-2.0M314.3 36.05h2.0M541.4 36.05h-2.0M314.3 24.27h2.0M541.4 24.27h-2.0" class="tk"/><rect x="314.3" y="12.5" width="227.1" height="47.1" class="ax"/><text transform="translate(312.00,62.10) scale(1,1.15)" class="yl"><tspan font-size="5.2px" dy="-0.25">−</tspan><tspan dy="0.25">200</tspan></text><text transform="translate(312.00,50.33) scale(1,1.15)" class="yl"><tspan font-size="5.2px" dy="-0.25">−</tspan><tspan dy="0.25">150</tspan></text><text transform="translate(312.00,38.55) scale(1,1.15)" class="yl"><tspan font-size="5.2px" dy="-0.25">−</tspan><tspan dy="0.25">100</tspan></text><text transform="translate(312.00,26.77) scale(1,1.15)" class="yl"><tspan font-size="5.2px" dy="-0.25">−</tspan><tspan dy="0.25">50</tspan></text><text transform="translate(312.00,15.00) scale(1,1.15)" class="yl">0</text><text transform="translate(328.73,69.30) scale(1,1.12)" class="xl">10<tspan dy="-1.9" class="sup">0</tspan></text><text transform="translate(399.65,69.30) scale(1,1.12)" class="xl">10<tspan dy="-1.9" class="sup">1</tspan></text><text transform="translate(470.58,69.30) scale(1,1.12)" class="xl">10<tspan dy="-1.9" class="sup">2</tspan></text><text transform="translate(541.50,69.30) scale(1,1.12)" class="xl">10<tspan dy="-1.9" class="sup">3</tspan></text><text transform="translate(297.6,36.05) rotate(-90) scale(1.07,1)" class="lab">Phase(Deg.)</text>
<path d="M317.64 123.3v-1.2M317.64 72.7v1.2M321.75 123.3v-1.2M321.75 72.7v1.2M325.38 123.3v-1.2M325.38 72.7v1.2M328.63 123.3v-2.0M328.63 72.7v2.0M349.98 123.3v-1.2M349.98 72.7v1.2M362.47 123.3v-1.2M362.47 72.7v1.2M371.33 123.3v-1.2M371.33 72.7v1.2M378.2 123.3v-1.2M378.2 72.7v1.2M383.82 123.3v-1.2M383.82 72.7v1.2M388.56 123.3v-1.2M388.56 72.7v1.2M392.68 123.3v-1.2M392.68 72.7v1.2M396.31 123.3v-1.2M396.31 72.7v1.2M399.55 123.3v-2.0M399.55 72.7v2.0M420.9 123.3v-1.2M420.9 72.7v1.2M433.39 123.3v-1.2M433.39 72.7v1.2M442.25 123.3v-1.2M442.25 72.7v1.2M449.13 123.3v-1.2M449.13 72.7v1.2M454.74 123.3v-1.2M454.74 72.7v1.2M459.49 123.3v-1.2M459.49 72.7v1.2M463.6 123.3v-1.2M463.6 72.7v1.2M467.23 123.3v-1.2M467.23 72.7v1.2M470.48 123.3v-2.0M470.48 72.7v2.0M491.83 123.3v-1.2M491.83 72.7v1.2M504.32 123.3v-1.2M504.32 72.7v1.2M513.18 123.3v-1.2M513.18 72.7v1.2M520.05 123.3v-1.2M520.05 72.7v1.2M525.67 123.3v-1.2M525.67 72.7v1.2M530.41 123.3v-1.2M530.41 72.7v1.2M534.53 123.3v-1.2M534.53 72.7v1.2M538.15 123.3v-1.2M538.15 72.7v1.2M314.3 110.65h2.0M541.4 110.65h-2.0M314.3 98h2.0M541.4 98h-2.0M314.3 85.35h2.0M541.4 85.35h-2.0" class="tk"/><rect x="314.3" y="72.7" width="227.1" height="50.6" class="ax"/><text transform="translate(312.00,125.80) scale(1,1.15)" class="yl"><tspan font-size="5.2px" dy="-0.25">−</tspan><tspan dy="0.25">200</tspan></text><text transform="translate(312.00,113.15) scale(1,1.15)" class="yl"><tspan font-size="5.2px" dy="-0.25">−</tspan><tspan dy="0.25">150</tspan></text><text transform="translate(312.00,100.50) scale(1,1.15)" class="yl"><tspan font-size="5.2px" dy="-0.25">−</tspan><tspan dy="0.25">100</tspan></text><text transform="translate(312.00,87.85) scale(1,1.15)" class="yl"><tspan font-size="5.2px" dy="-0.25">−</tspan><tspan dy="0.25">50</tspan></text><text transform="translate(312.00,75.20) scale(1,1.15)" class="yl">0</text><text transform="translate(328.73,133.00) scale(1,1.12)" class="xl">10<tspan dy="-1.9" class="sup">0</tspan></text><text transform="translate(399.65,133.00) scale(1,1.12)" class="xl">10<tspan dy="-1.9" class="sup">1</tspan></text><text transform="translate(470.58,133.00) scale(1,1.12)" class="xl">10<tspan dy="-1.9" class="sup">2</tspan></text><text transform="translate(541.50,133.00) scale(1,1.12)" class="xl">10<tspan dy="-1.9" class="sup">3</tspan></text><text transform="translate(297.6,98) rotate(-90) scale(1.07,1)" class="lab">Phase(Deg.)</text>
<path d="M317.64 185v-1.2M317.64 136.3v1.2M321.75 185v-1.2M321.75 136.3v1.2M325.38 185v-1.2M325.38 136.3v1.2M328.63 185v-2.0M328.63 136.3v2.0M349.98 185v-1.2M349.98 136.3v1.2M362.47 185v-1.2M362.47 136.3v1.2M371.33 185v-1.2M371.33 136.3v1.2M378.2 185v-1.2M378.2 136.3v1.2M383.82 185v-1.2M383.82 136.3v1.2M388.56 185v-1.2M388.56 136.3v1.2M392.68 185v-1.2M392.68 136.3v1.2M396.31 185v-1.2M396.31 136.3v1.2M399.55 185v-2.0M399.55 136.3v2.0M420.9 185v-1.2M420.9 136.3v1.2M433.39 185v-1.2M433.39 136.3v1.2M442.25 185v-1.2M442.25 136.3v1.2M449.13 185v-1.2M449.13 136.3v1.2M454.74 185v-1.2M454.74 136.3v1.2M459.49 185v-1.2M459.49 136.3v1.2M463.6 185v-1.2M463.6 136.3v1.2M467.23 185v-1.2M467.23 136.3v1.2M470.48 185v-2.0M470.48 136.3v2.0M491.83 185v-1.2M491.83 136.3v1.2M504.32 185v-1.2M504.32 136.3v1.2M513.18 185v-1.2M513.18 136.3v1.2M520.05 185v-1.2M520.05 136.3v1.2M525.67 185v-1.2M525.67 136.3v1.2M530.41 185v-1.2M530.41 136.3v1.2M534.53 185v-1.2M534.53 136.3v1.2M538.15 185v-1.2M538.15 136.3v1.2M314.3 172.82h2.0M541.4 172.82h-2.0M314.3 160.65h2.0M541.4 160.65h-2.0M314.3 148.48h2.0M541.4 148.48h-2.0" class="tk"/><rect x="314.3" y="136.3" width="227.1" height="48.7" class="ax"/><text transform="translate(312.00,187.50) scale(1,1.15)" class="yl"><tspan font-size="5.2px" dy="-0.25">−</tspan><tspan dy="0.25">200</tspan></text><text transform="translate(312.00,175.32) scale(1,1.15)" class="yl"><tspan font-size="5.2px" dy="-0.25">−</tspan><tspan dy="0.25">150</tspan></text><text transform="translate(312.00,163.15) scale(1,1.15)" class="yl"><tspan font-size="5.2px" dy="-0.25">−</tspan><tspan dy="0.25">100</tspan></text><text transform="translate(312.00,150.98) scale(1,1.15)" class="yl"><tspan font-size="5.2px" dy="-0.25">−</tspan><tspan dy="0.25">50</tspan></text><text transform="translate(312.00,138.80) scale(1,1.15)" class="yl">0</text><text transform="translate(328.73,194.70) scale(1,1.12)" class="xl">10<tspan dy="-1.9" class="sup">0</tspan></text><text transform="translate(399.65,194.70) scale(1,1.12)" class="xl">10<tspan dy="-1.9" class="sup">1</tspan></text><text transform="translate(470.58,194.70) scale(1,1.12)" class="xl">10<tspan dy="-1.9" class="sup">2</tspan></text><text transform="translate(541.50,194.70) scale(1,1.12)" class="xl">10<tspan dy="-1.9" class="sup">3</tspan></text><text transform="translate(297.6,160.65) rotate(-90) scale(1.07,1)" class="lab">Phase(Deg.)</text>
<path d="M317.64 249v-1.2M317.64 199.5v1.2M321.75 249v-1.2M321.75 199.5v1.2M325.38 249v-1.2M325.38 199.5v1.2M328.63 249v-2.0M328.63 199.5v2.0M349.98 249v-1.2M349.98 199.5v1.2M362.47 249v-1.2M362.47 199.5v1.2M371.33 249v-1.2M371.33 199.5v1.2M378.2 249v-1.2M378.2 199.5v1.2M383.82 249v-1.2M383.82 199.5v1.2M388.56 249v-1.2M388.56 199.5v1.2M392.68 249v-1.2M392.68 199.5v1.2M396.31 249v-1.2M396.31 199.5v1.2M399.55 249v-2.0M399.55 199.5v2.0M420.9 249v-1.2M420.9 199.5v1.2M433.39 249v-1.2M433.39 199.5v1.2M442.25 249v-1.2M442.25 199.5v1.2M449.13 249v-1.2M449.13 199.5v1.2M454.74 249v-1.2M454.74 199.5v1.2M459.49 249v-1.2M459.49 199.5v1.2M463.6 249v-1.2M463.6 199.5v1.2M467.23 249v-1.2M467.23 199.5v1.2M470.48 249v-2.0M470.48 199.5v2.0M491.83 249v-1.2M491.83 199.5v1.2M504.32 249v-1.2M504.32 199.5v1.2M513.18 249v-1.2M513.18 199.5v1.2M520.05 249v-1.2M520.05 199.5v1.2M525.67 249v-1.2M525.67 199.5v1.2M530.41 249v-1.2M530.41 199.5v1.2M534.53 249v-1.2M534.53 199.5v1.2M538.15 249v-1.2M538.15 199.5v1.2M314.3 236.62h2.0M541.4 236.62h-2.0M314.3 224.25h2.0M541.4 224.25h-2.0M314.3 211.88h2.0M541.4 211.88h-2.0" class="tk"/><rect x="314.3" y="199.5" width="227.1" height="49.5" class="ax"/><text transform="translate(312.00,251.50) scale(1,1.15)" class="yl"><tspan font-size="5.2px" dy="-0.25">−</tspan><tspan dy="0.25">200</tspan></text><text transform="translate(312.00,239.12) scale(1,1.15)" class="yl"><tspan font-size="5.2px" dy="-0.25">−</tspan><tspan dy="0.25">150</tspan></text><text transform="translate(312.00,226.75) scale(1,1.15)" class="yl"><tspan font-size="5.2px" dy="-0.25">−</tspan><tspan dy="0.25">100</tspan></text><text transform="translate(312.00,214.38) scale(1,1.15)" class="yl"><tspan font-size="5.2px" dy="-0.25">−</tspan><tspan dy="0.25">50</tspan></text><text transform="translate(312.00,202.00) scale(1,1.15)" class="yl">0</text><text transform="translate(328.73,258.70) scale(1,1.12)" class="xl">10<tspan dy="-1.9" class="sup">0</tspan></text><text transform="translate(399.65,258.70) scale(1,1.12)" class="xl">10<tspan dy="-1.9" class="sup">1</tspan></text><text transform="translate(470.58,258.70) scale(1,1.12)" class="xl">10<tspan dy="-1.9" class="sup">2</tspan></text><text transform="translate(541.50,258.70) scale(1,1.12)" class="xl">10<tspan dy="-1.9" class="sup">3</tspan></text><text transform="translate(297.6,224.25) rotate(-90) scale(1.07,1)" class="lab">Phase(Deg.)</text>
<path d="M317.64 313.4v-1.2M317.64 264.5v1.2M321.75 313.4v-1.2M321.75 264.5v1.2M325.38 313.4v-1.2M325.38 264.5v1.2M328.63 313.4v-2.0M328.63 264.5v2.0M349.98 313.4v-1.2M349.98 264.5v1.2M362.47 313.4v-1.2M362.47 264.5v1.2M371.33 313.4v-1.2M371.33 264.5v1.2M378.2 313.4v-1.2M378.2 264.5v1.2M383.82 313.4v-1.2M383.82 264.5v1.2M388.56 313.4v-1.2M388.56 264.5v1.2M392.68 313.4v-1.2M392.68 264.5v1.2M396.31 313.4v-1.2M396.31 264.5v1.2M399.55 313.4v-2.0M399.55 264.5v2.0M420.9 313.4v-1.2M420.9 264.5v1.2M433.39 313.4v-1.2M433.39 264.5v1.2M442.25 313.4v-1.2M442.25 264.5v1.2M449.13 313.4v-1.2M449.13 264.5v1.2M454.74 313.4v-1.2M454.74 264.5v1.2M459.49 313.4v-1.2M459.49 264.5v1.2M463.6 313.4v-1.2M463.6 264.5v1.2M467.23 313.4v-1.2M467.23 264.5v1.2M470.48 313.4v-2.0M470.48 264.5v2.0M491.83 313.4v-1.2M491.83 264.5v1.2M504.32 313.4v-1.2M504.32 264.5v1.2M513.18 313.4v-1.2M513.18 264.5v1.2M520.05 313.4v-1.2M520.05 264.5v1.2M525.67 313.4v-1.2M525.67 264.5v1.2M530.41 313.4v-1.2M530.41 264.5v1.2M534.53 313.4v-1.2M534.53 264.5v1.2M538.15 313.4v-1.2M538.15 264.5v1.2M314.3 301.17h2.0M541.4 301.17h-2.0M314.3 288.95h2.0M541.4 288.95h-2.0M314.3 276.73h2.0M541.4 276.73h-2.0" class="tk"/><rect x="314.3" y="264.5" width="227.1" height="48.9" class="ax"/><text transform="translate(312.00,315.90) scale(1,1.15)" class="yl"><tspan font-size="5.2px" dy="-0.25">−</tspan><tspan dy="0.25">200</tspan></text><text transform="translate(312.00,303.67) scale(1,1.15)" class="yl"><tspan font-size="5.2px" dy="-0.25">−</tspan><tspan dy="0.25">150</tspan></text><text transform="translate(312.00,291.45) scale(1,1.15)" class="yl"><tspan font-size="5.2px" dy="-0.25">−</tspan><tspan dy="0.25">100</tspan></text><text transform="translate(312.00,279.23) scale(1,1.15)" class="yl"><tspan font-size="5.2px" dy="-0.25">−</tspan><tspan dy="0.25">50</tspan></text><text transform="translate(312.00,267.00) scale(1,1.15)" class="yl">0</text><text transform="translate(328.73,323.10) scale(1,1.12)" class="xl">10<tspan dy="-1.9" class="sup">0</tspan></text><text transform="translate(399.65,323.10) scale(1,1.12)" class="xl">10<tspan dy="-1.9" class="sup">1</tspan></text><text transform="translate(470.58,323.10) scale(1,1.12)" class="xl">10<tspan dy="-1.9" class="sup">2</tspan></text><text transform="translate(541.50,323.10) scale(1,1.12)" class="xl">10<tspan dy="-1.9" class="sup">3</tspan></text><text transform="translate(297.6,288.95) rotate(-90) scale(1.07,1)" class="lab">Phase(Deg.)</text>
<defs><clipPath id="c0"><rect x="25" y="6.4" width="233.2" height="50"/></clipPath><clipPath id="c1"><rect x="25" y="68.8" width="233.2" height="51.8"/></clipPath><clipPath id="c2"><rect x="25" y="134.1" width="233.2" height="52.2"/></clipPath><clipPath id="c3"><rect x="25" y="199.8" width="233.2" height="51.7"/></clipPath><clipPath id="c4"><rect x="25" y="266.1" width="233.2" height="51.5"/></clipPath><clipPath id="c5"><rect x="314.3" y="11.3" width="227.1" height="48.3"/></clipPath><clipPath id="c6"><rect x="314.3" y="71.5" width="227.1" height="51.8"/></clipPath><clipPath id="c7"><rect x="314.3" y="135.1" width="227.1" height="49.9"/></clipPath><clipPath id="c8"><rect x="314.3" y="198.3" width="227.1" height="50.7"/></clipPath><clipPath id="c9"><rect x="314.3" y="263.3" width="227.1" height="50.1"/></clipPath></defs>
<defs><marker id="m0" viewBox="-1 -1 2 2" markerUnits="userSpaceOnUse" markerWidth="1.3" markerHeight="1.3" refX="0" refY="0"><circle r="1" fill="#cbab66"/></marker><marker id="m1" viewBox="-1 -1 2 2" markerUnits="userSpaceOnUse" markerWidth="1.3" markerHeight="1.3" refX="0" refY="0"><circle r="1" fill="#6860c8"/></marker><marker id="m2" viewBox="-1 -1 2 2" markerUnits="userSpaceOnUse" markerWidth="1.3" markerHeight="1.3" refX="0" refY="0"><circle r="1" fill="#d63c44"/></marker><marker id="m3" viewBox="-1 -1 2 2" markerUnits="userSpaceOnUse" markerWidth="1.3" markerHeight="1.3" refX="0" refY="0"><circle r="1" fill="#34a15b"/></marker><marker id="m4" viewBox="-1 -1 2 2" markerUnits="userSpaceOnUse" markerWidth="1.3" markerHeight="1.3" refX="0" refY="0"><circle r="1" fill="#2b63c4"/></marker><marker id="m5" viewBox="-1 -1 2 2" markerUnits="userSpaceOnUse" markerWidth="1.3" markerHeight="1.3" refX="0" refY="0"><circle r="1" fill="#3db5d6"/></marker></defs>
<g clip-path="url(#c0)" fill="none" stroke-linejoin="round" stroke-linecap="round"><path d="M25.10,8.10 75.60,8.16 111.85,8.33 129.10,9.04 134.10,9.34 136.10,9.57 138.35,9.94 143.10,10.88 145.42,11.41" stroke="#cbab66" stroke-width="1.05" stroke-dasharray="1.5 1.2" stroke-linecap="butt"/><path d="M156.39,14.38 161.39,15.97 169.53,19.15" stroke="#cbab66" stroke-width="1.25"/><path d="M169.21,19.03 180.54,23.51" stroke="#cbab66" stroke-width="1.55"/><path d="M180.23,23.38 190.11,27.54" stroke="#cbab66" stroke-width="1.85"/><path d="M189.79,27.40 195.79,30.06 201.04,32.49 214.79,39.35 220.29,41.95 226.29,44.60 232.04,47.04 237.79,49.38 243.30,51.50" stroke="#cbab66" stroke-width="2.15"/><path d="M75.9,8.2 97.8,8.2 110.7,8.3 119.8,8.7 126.8,8.9 132.6,9.2 137.5,9.8 141.7,10.6 145.4,11.4 148.7,12.3 151.8,13.1 154.5,13.8 157.0,14.6 159.4,15.3 161.6,16.0 163.6,16.8 165.5,17.6 167.3,18.3 169.0,19.0 170.7,19.6 172.2,20.2 173.7,20.8 175.1,21.3 176.4,21.9 177.7,22.4 179.0,22.9 180.2,23.4 181.3,23.8" stroke="none" marker-start="url(#m0)" marker-mid="url(#m0)" marker-end="url(#m0)"/><path d="M25.10,8.10 89.60,8.15 140.35,8.30 144.35,8.46 150.35,8.93 153.10,9.24 156.70,9.76" stroke="#6860c8" stroke-width="1.05" stroke-dasharray="2.6 1.6" stroke-linecap="butt"/><path d="M156.39,9.71 160.14,10.29 163.64,10.92 166.39,11.51 169.53,12.30" stroke="#6860c8" stroke-width="1.25"/><path d="M169.21,12.21 175.46,14.01 180.54,15.66" stroke="#6860c8" stroke-width="1.55"/><path d="M180.23,15.56 184.48,17.08 190.11,19.35" stroke="#6860c8" stroke-width="1.85"/><path d="M189.79,19.22 193.29,20.56 202.54,23.83 207.54,25.75 212.29,27.67 216.29,29.36 243.30,41.30" stroke="#6860c8" stroke-width="2.15"/><path d="M75.9,8.1 97.8,8.2 110.7,8.2 119.8,8.2 126.8,8.2 132.6,8.3 137.5,8.3 141.7,8.3 145.4,8.5 148.7,8.8 151.8,9.1 154.5,9.4 157.0,9.8 159.4,10.2 161.6,10.5 163.6,10.9 165.5,11.3 167.3,11.7 169.0,12.2 170.7,12.6 172.2,13.1 173.7,13.5 175.1,13.9 176.4,14.3 177.7,14.7 179.0,15.1 180.2,15.5 181.3,15.9" stroke="none" marker-start="url(#m1)" marker-mid="url(#m1)" marker-end="url(#m1)"/><path d="M25.10,8.10 92.35,8.14 145.10,8.30 148.85,8.48 156.70,9.27" stroke="#d63c44" stroke-width="1.05"/><path d="M156.39,9.24 160.64,9.70 164.14,10.17 166.64,10.58 169.53,11.19" stroke="#d63c44" stroke-width="1.25"/><path d="M169.21,11.11 175.46,12.66 180.54,14.15" stroke="#d63c44" stroke-width="1.55"/><path d="M180.23,14.05 184.73,15.52 190.11,17.51" stroke="#d63c44" stroke-width="1.85"/><path d="M189.79,17.39 193.29,18.64 201.29,21.26 210.29,24.55 215.29,26.52 220.54,28.76 231.04,33.07 243.30,37.90" stroke="#d63c44" stroke-width="2.15"/><path d="M75.9,8.1 97.8,8.2 110.7,8.2 119.8,8.2 126.8,8.2 132.6,8.2 137.5,8.3 141.7,8.3 145.4,8.3 148.7,8.5 151.8,8.8 154.5,9.1 157.0,9.3 159.4,9.6 161.6,9.8 163.6,10.1 165.5,10.4 167.3,10.7 169.0,11.1 170.7,11.5 172.2,11.8 173.7,12.2 175.1,12.6 176.4,12.9 177.7,13.3 179.0,13.7 180.2,14.0 181.3,14.4" stroke="none" marker-start="url(#m2)" marker-mid="url(#m2)" marker-end="url(#m2)"/><path d="M25.10,8.10 95.10,8.14 149.85,8.30 152.60,8.38 156.70,8.70" stroke="#34a15b" stroke-width="1.05" stroke-dasharray="2.6 1 0.8 1" stroke-linecap="butt"/><path d="M156.39,8.67 163.14,9.29 169.53,10.12" stroke="#34a15b" stroke-width="1.25"/><path d="M169.21,10.07 172.46,10.60 175.21,11.12 177.71,11.70 180.54,12.45" stroke="#34a15b" stroke-width="1.55"/><path d="M180.23,12.36 184.73,13.66 190.11,15.46" stroke="#34a15b" stroke-width="1.85"/><path d="M189.79,15.35 201.04,19.08 210.54,22.55 215.54,24.52 220.54,26.66 231.54,31.20 243.30,35.90" stroke="#34a15b" stroke-width="2.15"/><path d="M75.9,8.1 97.8,8.1 110.7,8.2 119.8,8.2 126.8,8.2 132.6,8.2 137.5,8.3 141.7,8.3 145.4,8.3 148.7,8.3 151.8,8.3 154.5,8.5 157.0,8.7 159.4,8.9 161.6,9.1 163.6,9.3 165.5,9.6 167.3,9.8 169.0,10.0 170.7,10.3 172.2,10.6 173.7,10.8 175.1,11.1 176.4,11.4 177.7,11.7 179.0,12.0 180.2,12.3 181.3,12.7" stroke="none" marker-start="url(#m3)" marker-mid="url(#m3)" marker-end="url(#m3)"/><path d="M25.10,8.10 99.35,8.14 156.70,8.29" stroke="#2b63c4" stroke-width="1.05" stroke-dasharray="1.0 1.0" stroke-linecap="butt"/><path d="M156.39,8.29 159.89,8.37 169.53,9.13" stroke="#2b63c4" stroke-width="1.25"/><path d="M169.21,9.11 174.96,9.58 180.54,10.17" stroke="#2b63c4" stroke-width="1.55"/><path d="M180.23,10.14 184.73,10.71 190.11,11.55" stroke="#2b63c4" stroke-width="1.85"/><path d="M189.79,11.50 199.29,12.93 203.29,13.68 209.04,15.09 216.29,17.19 219.04,18.11 222.54,19.39 230.29,22.45 237.04,25.39 243.30,28.40" stroke="#2b63c4" stroke-width="2.15"/><path d="M75.9,8.1 97.8,8.1 110.7,8.2 119.8,8.2 126.8,8.2 132.6,8.2 137.5,8.2 141.7,8.2 145.4,8.3 148.7,8.3 151.8,8.3 154.5,8.3 157.0,8.3 159.4,8.3 161.6,8.5 163.6,8.7 165.5,8.8 167.3,9.0 169.0,9.1 170.7,9.2 172.2,9.3 173.7,9.5 175.1,9.6 176.4,9.7 177.7,9.9 179.0,10.0 180.2,10.1 181.3,10.3" stroke="none" marker-start="url(#m4)" marker-mid="url(#m4)" marker-end="url(#m4)"/><path d="M25.10,8.10 97.85,8.15 156.70,8.31" stroke="#3db5d6" stroke-width="1.05" stroke-dasharray="1.0 1.0" stroke-linecap="butt"/><path d="M156.39,8.31 169.53,8.37" stroke="#3db5d6" stroke-width="1.25"/><path d="M169.21,8.37 175.96,8.41 180.54,8.59" stroke="#3db5d6" stroke-width="1.55"/><path d="M180.23,8.58 190.11,8.93" stroke="#3db5d6" stroke-width="1.85"/><path d="M189.79,8.92 199.04,9.29 204.79,9.68 213.79,10.63 217.29,11.10 220.54,11.63 223.04,12.13 225.54,12.75 232.79,14.84 237.79,16.51 243.30,18.60" stroke="#3db5d6" stroke-width="2.15"/><path d="M75.9,8.1 97.8,8.1 110.7,8.2 119.8,8.2 126.8,8.2 132.6,8.2 137.5,8.2 141.7,8.3 145.4,8.3 148.7,8.3 151.8,8.3 154.5,8.3 157.0,8.3 159.4,8.3 161.6,8.3 163.6,8.3 165.5,8.4 167.3,8.4 169.0,8.4 170.7,8.4 172.2,8.4 173.7,8.4 175.1,8.4 176.4,8.4 177.7,8.5 179.0,8.5 180.2,8.6 181.3,8.6" stroke="none" marker-start="url(#m5)" marker-mid="url(#m5)" marker-end="url(#m5)"/></g>
<g clip-path="url(#c1)" fill="none" stroke-linejoin="round" stroke-linecap="round"><path d="M25.10,70.00 54.85,70.33 81.35,70.74 109.60,71.31 146.10,72.23 156.70,72.37" stroke="#cbab66" stroke-width="1.05" stroke-dasharray="1.5 1.2" stroke-linecap="butt"/><path d="M156.39,72.37 162.39,72.48 169.53,72.76" stroke="#cbab66" stroke-width="1.25"/><path d="M169.21,72.75 176.46,73.22 178.46,73.43 180.54,73.76" stroke="#cbab66" stroke-width="1.55"/><path d="M180.23,73.71 183.23,74.32 185.98,75.15 187.98,75.98 190.11,77.13" stroke="#cbab66" stroke-width="1.85"/><path d="M189.79,76.95 191.29,77.84 192.54,78.69 199.54,83.96 204.54,87.59 213.29,93.85 221.04,99.26 232.54,107.02 238.04,110.58 243.40,113.94" stroke="#cbab66" stroke-width="2.15"/><path d="M75.9,70.6 97.8,71.1 110.7,71.3 119.8,71.6 126.8,71.7 132.6,71.9 137.5,72.0 141.7,72.1 145.4,72.2 148.7,72.3 151.8,72.3 154.5,72.3 157.0,72.4 159.4,72.4 161.6,72.5 163.6,72.5 165.5,72.6 167.3,72.7 169.0,72.7 170.7,72.8 172.2,72.9 173.7,73.0 175.1,73.1 176.4,73.2 177.7,73.3 179.0,73.5 180.2,73.7 181.3,73.9" stroke="none" marker-start="url(#m0)" marker-mid="url(#m0)" marker-end="url(#m0)"/><path d="M25.10,70.30 54.85,70.63 81.35,71.04 109.60,71.61 146.10,72.53 156.70,72.67" stroke="#6860c8" stroke-width="1.05" stroke-dasharray="2.6 1.6" stroke-linecap="butt"/><path d="M156.39,72.67 162.39,72.78 169.53,73.06" stroke="#6860c8" stroke-width="1.25"/><path d="M169.21,73.05 176.46,73.52 178.46,73.73 180.54,74.06" stroke="#6860c8" stroke-width="1.55"/><path d="M180.23,74.01 183.23,74.62 185.98,75.45 187.98,76.28 190.11,77.43" stroke="#6860c8" stroke-width="1.85"/><path d="M189.79,77.25 191.29,78.14 192.54,78.99 199.54,84.26 204.29,87.70 213.04,93.94 220.79,99.33 226.79,103.40 232.54,107.19 238.04,110.71 243.40,114.03" stroke="#6860c8" stroke-width="2.15"/><path d="M75.9,70.9 97.8,71.4 110.7,71.6 119.8,71.9 126.8,72.0 132.6,72.2 137.5,72.3 141.7,72.4 145.4,72.5 148.7,72.6 151.8,72.6 154.5,72.6 157.0,72.7 159.4,72.7 161.6,72.8 163.6,72.8 165.5,72.9 167.3,73.0 169.0,73.0 170.7,73.1 172.2,73.2 173.7,73.3 175.1,73.4 176.4,73.5 177.7,73.6 179.0,73.8 180.2,74.0 181.3,74.2" stroke="none" marker-start="url(#m1)" marker-mid="url(#m1)" marker-end="url(#m1)"/><path d="M25.10,70.60 54.85,70.93 81.35,71.34 109.60,71.91 146.10,72.83 156.70,72.97" stroke="#d63c44" stroke-width="1.05"/><path d="M156.39,72.97 162.39,73.08 169.53,73.36" stroke="#d63c44" stroke-width="1.25"/><path d="M169.21,73.35 176.46,73.82 178.46,74.03 180.54,74.36" stroke="#d63c44" stroke-width="1.55"/><path d="M180.23,74.31 183.23,74.92 185.98,75.75 187.98,76.58 190.11,77.73" stroke="#d63c44" stroke-width="1.85"/><path d="M189.79,77.55 191.29,78.44 192.54,79.29 199.54,84.56 204.04,87.81 212.79,94.03 220.79,99.57 226.79,103.61 232.54,107.37 238.04,110.85 243.40,114.12" stroke="#d63c44" stroke-width="2.15"/><path d="M75.9,71.2 97.8,71.7 110.7,71.9 119.8,72.2 126.8,72.3 132.6,72.5 137.5,72.6 141.7,72.7 145.4,72.8 148.7,72.9 151.8,72.9 154.5,72.9 157.0,73.0 159.4,73.0 161.6,73.1 163.6,73.1 165.5,73.2 167.3,73.3 169.0,73.3 170.7,73.4 172.2,73.5 173.7,73.6 175.1,73.7 176.4,73.8 177.7,73.9 179.0,74.1 180.2,74.3 181.3,74.5" stroke="none" marker-start="url(#m2)" marker-mid="url(#m2)" marker-end="url(#m2)"/><path d="M25.10,70.20 54.85,70.53 81.35,70.94 109.60,71.51 146.10,72.43 156.70,72.57" stroke="#34a15b" stroke-width="1.05" stroke-dasharray="2.6 1 0.8 1" stroke-linecap="butt"/><path d="M156.39,72.57 162.39,72.68 169.53,72.96" stroke="#34a15b" stroke-width="1.25"/><path d="M169.21,72.95 176.46,73.42 178.46,73.63 180.54,73.96" stroke="#34a15b" stroke-width="1.55"/><path d="M180.23,73.91 183.23,74.52 185.98,75.35 187.98,76.18 190.11,77.33" stroke="#34a15b" stroke-width="1.85"/><path d="M189.79,77.15 191.29,78.04 192.54,78.89 199.54,84.16 204.29,87.60 213.04,93.85 220.79,99.25 226.79,103.33 232.54,107.13 238.04,110.67 243.40,114.00" stroke="#34a15b" stroke-width="2.15"/><path d="M75.9,70.8 97.8,71.3 110.7,71.5 119.8,71.8 126.8,71.9 132.6,72.1 137.5,72.2 141.7,72.3 145.4,72.4 148.7,72.5 151.8,72.5 154.5,72.5 157.0,72.6 159.4,72.6 161.6,72.7 163.6,72.7 165.5,72.8 167.3,72.9 169.0,72.9 170.7,73.0 172.2,73.1 173.7,73.2 175.1,73.3 176.4,73.4 177.7,73.5 179.0,73.7 180.2,73.9 181.3,74.1" stroke="none" marker-start="url(#m3)" marker-mid="url(#m3)" marker-end="url(#m3)"/><path d="M25.10,70.10 54.85,70.43 81.35,70.84 109.60,71.41 146.10,72.33 156.70,72.47" stroke="#2b63c4" stroke-width="1.05" stroke-dasharray="1.0 1.0" stroke-linecap="butt"/><path d="M156.39,72.47 162.39,72.58 169.53,72.86" stroke="#2b63c4" stroke-width="1.25"/><path d="M169.21,72.85 176.46,73.32 178.46,73.53 180.54,73.86" stroke="#2b63c4" stroke-width="1.55"/><path d="M180.23,73.81 183.23,74.42 185.98,75.25 187.98,76.08 190.11,77.23" stroke="#2b63c4" stroke-width="1.85"/><path d="M189.79,77.05 191.29,77.94 192.54,78.79 199.54,84.06 204.54,87.69 213.29,93.94 221.04,99.34 227.04,103.43 232.54,107.07 238.04,110.62 243.40,113.97" stroke="#2b63c4" stroke-width="2.15"/><path d="M75.9,70.7 97.8,71.2 110.7,71.4 119.8,71.7 126.8,71.8 132.6,72.0 137.5,72.1 141.7,72.2 145.4,72.3 148.7,72.4 151.8,72.4 154.5,72.4 157.0,72.5 159.4,72.5 161.6,72.6 163.6,72.6 165.5,72.7 167.3,72.8 169.0,72.8 170.7,72.9 172.2,73.0 173.7,73.1 175.1,73.2 176.4,73.3 177.7,73.4 179.0,73.6 180.2,73.8 181.3,74.0" stroke="none" marker-start="url(#m4)" marker-mid="url(#m4)" marker-end="url(#m4)"/><path d="M25.10,70.00 54.85,70.33 81.35,70.74 109.60,71.31 146.10,72.23 156.70,72.37" stroke="#3db5d6" stroke-width="1.05" stroke-dasharray="1.0 1.0" stroke-linecap="butt"/><path d="M156.39,72.37 162.39,72.48 169.53,72.76" stroke="#3db5d6" stroke-width="1.25"/><path d="M169.21,72.75 176.46,73.22 178.46,73.43 180.54,73.76" stroke="#3db5d6" stroke-width="1.55"/><path d="M180.23,73.71 183.23,74.32 185.98,75.15 187.98,75.98 190.11,77.13" stroke="#3db5d6" stroke-width="1.85"/><path d="M189.79,76.95 191.29,77.84 192.54,78.69 199.54,83.96 204.54,87.59 213.29,93.85 221.04,99.26 232.54,107.02 238.04,110.58 243.40,113.94" stroke="#3db5d6" stroke-width="2.15"/><path d="M75.9,70.6 97.8,71.1 110.7,71.3 119.8,71.6 126.8,71.7 132.6,71.9 137.5,72.0 141.7,72.1 145.4,72.2 148.7,72.3 151.8,72.3 154.5,72.3 157.0,72.4 159.4,72.4 161.6,72.5 163.6,72.5 165.5,72.6 167.3,72.7 169.0,72.7 170.7,72.8 172.2,72.9 173.7,73.0 175.1,73.1 176.4,73.2 177.7,73.3 179.0,73.5 180.2,73.7 181.3,73.9" stroke="none" marker-start="url(#m5)" marker-mid="url(#m5)" marker-end="url(#m5)"/></g>
<g clip-path="url(#c2)" fill="none" stroke-linejoin="round" stroke-linecap="round"><path d="M25.10,151.70 90.60,151.80 97.10,151.91 105.10,152.19 110.85,152.44 114.60,152.67 138.60,154.56 142.10,154.93 145.85,155.41 156.70,157.07" stroke="#cbab66" stroke-width="1.05" stroke-dasharray="1.5 1.2" stroke-linecap="butt"/><path d="M156.39,157.02 169.53,159.09" stroke="#cbab66" stroke-width="1.25"/><path d="M169.21,159.04 176.71,160.41 180.54,161.30" stroke="#cbab66" stroke-width="1.55"/><path d="M180.23,161.22 182.23,161.85 190.11,165.01" stroke="#cbab66" stroke-width="1.85"/><path d="M189.79,164.88 207.04,171.85 218.54,176.72 222.79,178.44 233.54,182.45 238.54,184.19 243.40,185.80" stroke="#cbab66" stroke-width="2.15"/><path d="M75.9,151.8 97.8,151.9 110.7,152.4 119.8,153.1 126.8,153.6 132.6,154.1 137.5,154.5 141.7,154.9 145.4,155.4 148.7,155.8 151.8,156.3 154.5,156.7 157.0,157.1 159.4,157.5 161.6,157.8 163.6,158.1 165.5,158.4 167.3,158.7 169.0,159.0 170.7,159.3 172.2,159.6 173.7,159.8 175.1,160.1 176.4,160.4 177.7,160.6 179.0,160.9 180.2,161.2 181.3,161.5" stroke="none" marker-start="url(#m0)" marker-mid="url(#m0)" marker-end="url(#m0)"/><path d="M25.10,151.70 75.60,151.76 112.10,151.93 117.35,152.15 130.35,152.92 149.35,154.26 156.70,154.86" stroke="#6860c8" stroke-width="1.05" stroke-dasharray="2.6 1.6" stroke-linecap="butt"/><path d="M156.39,154.83 162.14,155.45 169.53,156.47" stroke="#6860c8" stroke-width="1.25"/><path d="M169.21,156.43 177.21,157.55 180.54,158.13" stroke="#6860c8" stroke-width="1.55"/><path d="M180.23,158.06 181.98,158.47 184.98,159.39 190.11,160.84" stroke="#6860c8" stroke-width="1.85"/><path d="M189.79,160.75 193.04,161.74 197.04,163.11 201.29,164.69 206.29,166.65 211.29,168.72 220.79,172.96 225.29,174.88 234.54,178.69 243.40,182.20" stroke="#6860c8" stroke-width="2.15"/><path d="M75.9,151.8 97.8,151.8 110.7,151.9 119.8,152.3 126.8,152.7 132.6,153.1 137.5,153.4 141.7,153.7 145.4,154.0 148.7,154.2 151.8,154.4 154.5,154.7 157.0,154.9 159.4,155.1 161.6,155.4 163.6,155.6 165.5,155.9 167.3,156.2 169.0,156.4 170.7,156.6 172.2,156.9 173.7,157.1 175.1,157.2 176.4,157.4 177.7,157.6 179.0,157.8 180.2,158.1 181.3,158.3" stroke="none" marker-start="url(#m1)" marker-mid="url(#m1)" marker-end="url(#m1)"/><path d="M25.10,151.70 78.10,151.75 121.35,151.91 127.60,152.10 138.85,152.65 156.70,153.42" stroke="#d63c44" stroke-width="1.05"/><path d="M156.39,153.40 163.14,153.81 169.53,154.30" stroke="#d63c44" stroke-width="1.25"/><path d="M169.21,154.27 175.71,154.90 180.54,155.54" stroke="#d63c44" stroke-width="1.55"/><path d="M180.23,155.49 182.98,156.02 190.11,157.78" stroke="#d63c44" stroke-width="1.85"/><path d="M189.79,157.69 192.29,158.41 194.79,159.22 197.29,160.15 200.29,161.35 210.29,165.64 220.54,170.32 225.29,172.40 234.54,176.31 243.40,179.90" stroke="#d63c44" stroke-width="2.15"/><path d="M75.9,151.7 97.8,151.8 110.7,151.9 119.8,151.9 126.8,152.1 132.6,152.3 137.5,152.6 141.7,152.8 145.4,152.9 148.7,153.1 151.8,153.2 154.5,153.3 157.0,153.4 159.4,153.6 161.6,153.7 163.6,153.8 165.5,154.0 167.3,154.1 169.0,154.3 170.7,154.4 172.2,154.5 173.7,154.7 175.1,154.8 176.4,155.0 177.7,155.1 179.0,155.3 180.2,155.5 181.3,155.7" stroke="none" marker-start="url(#m2)" marker-mid="url(#m2)" marker-end="url(#m2)"/><path d="M25.10,151.70 140.85,151.70 147.85,151.77 156.70,151.96" stroke="#34a15b" stroke-width="1.05" stroke-dasharray="2.6 1 0.8 1" stroke-linecap="butt"/><path d="M156.39,151.95 162.39,152.15 169.53,152.55" stroke="#34a15b" stroke-width="1.25"/><path d="M169.21,152.53 174.71,152.92 180.54,153.46" stroke="#34a15b" stroke-width="1.55"/><path d="M180.23,153.43 185.48,154.07 187.73,154.47 190.11,154.97" stroke="#34a15b" stroke-width="1.85"/><path d="M189.79,154.90 192.04,155.45 193.79,155.95 195.54,156.57 197.54,157.38 200.29,158.64 206.79,161.80 220.54,168.01 232.04,173.09 243.40,178.00" stroke="#34a15b" stroke-width="2.15"/><path d="M75.9,151.7 97.8,151.7 110.7,151.7 119.8,151.7 126.8,151.7 132.6,151.7 137.5,151.7 141.7,151.7 145.4,151.7 148.7,151.8 151.8,151.8 154.5,151.9 157.0,152.0 159.4,152.0 161.6,152.1 163.6,152.2 165.5,152.3 167.3,152.4 169.0,152.5 170.7,152.6 172.2,152.7 173.7,152.8 175.1,152.9 176.4,153.1 177.7,153.2 179.0,153.3 180.2,153.4 181.3,153.5" stroke="none" marker-start="url(#m3)" marker-mid="url(#m3)" marker-end="url(#m3)"/><path d="M25.10,151.70 140.35,151.60 148.10,151.52 156.70,151.34" stroke="#2b63c4" stroke-width="1.05" stroke-dasharray="1.0 1.0" stroke-linecap="butt"/><path d="M156.39,151.35 162.14,151.11 169.53,150.50" stroke="#2b63c4" stroke-width="1.25"/><path d="M169.21,150.53 180.54,149.42" stroke="#2b63c4" stroke-width="1.55"/><path d="M180.23,149.45 183.98,149.22 185.73,149.25 186.73,149.45 188.23,149.87 188.98,150.14 190.11,150.67" stroke="#2b63c4" stroke-width="1.85"/><path d="M189.79,150.51 196.04,153.81 206.54,159.60 211.04,161.88 216.04,164.30 222.29,167.19 229.79,170.48 236.79,173.40 243.40,176.00" stroke="#2b63c4" stroke-width="2.15"/><path d="M75.9,151.7 97.8,151.7 110.7,151.7 119.8,151.6 126.8,151.6 132.6,151.6 137.5,151.6 141.7,151.6 145.4,151.6 148.7,151.5 151.8,151.5 154.5,151.4 157.0,151.3 159.4,151.3 161.6,151.1 163.6,151.0 165.5,150.9 167.3,150.7 169.0,150.5 170.7,150.4 172.2,150.3 173.7,150.1 175.1,150.0 176.4,149.8 177.7,149.7 179.0,149.6 180.2,149.5 181.3,149.4" stroke="none" marker-start="url(#m4)" marker-mid="url(#m4)" marker-end="url(#m4)"/><path d="M25.10,151.70 140.35,151.60 148.10,151.52 156.70,151.34" stroke="#3db5d6" stroke-width="1.05" stroke-dasharray="1.0 1.0" stroke-linecap="butt"/><path d="M156.39,151.35 163.39,151.09 169.53,150.64" stroke="#3db5d6" stroke-width="1.25"/><path d="M169.21,150.67 171.96,150.38 172.96,150.21 174.46,149.83 177.96,148.81 180.54,148.26" stroke="#3db5d6" stroke-width="1.55"/><path d="M180.23,148.33 181.98,147.84 183.05,147.30" stroke="#3db5d6" stroke-width="1.85"/><path d="M182.73,147.49 183.73,146.80 184.73,145.91 185.48,145.01 186.23,143.84 186.73,142.58 187.23,138.84 187.48,138.31 187.73,138.49 187.98,138.83 188.98,140.59 190.11,142.75" stroke="#3db5d6" stroke-width="1.0"/><path d="M189.79,142.18 190.79,143.77 192.74,146.23" stroke="#3db5d6" stroke-width="1.0"/><path d="M192.43,145.86 194.18,147.85 195.93,149.62 197.18,150.74 199.68,152.80 202.18,154.74 204.68,156.53 206.93,158.01 209.43,159.48 212.18,160.96 215.43,162.57 226.43,167.54 235.18,171.27 243.40,174.50" stroke="#3db5d6" stroke-width="2.15"/><path d="M75.9,151.7 97.8,151.7 110.7,151.7 119.8,151.6 126.8,151.6 132.6,151.6 137.5,151.6 141.7,151.6 145.4,151.6 148.7,151.5 151.8,151.5 154.5,151.4 157.0,151.3 159.4,151.3 161.6,151.2 163.6,151.1 165.5,151.0 167.3,150.8 169.0,150.7 170.7,150.5 172.2,150.3 173.7,150.0 175.1,149.6 176.4,149.2 177.7,148.9 179.0,148.6 180.2,148.3 181.3,148.1" stroke="none" marker-start="url(#m5)" marker-mid="url(#m5)" marker-end="url(#m5)"/></g>
<g clip-path="url(#c3)" fill="none" stroke-linejoin="round" stroke-linecap="round"><path d="M25.10,217.80 105.60,217.80 135.35,217.70 140.60,217.62 145.85,217.46 151.35,217.20 156.70,216.87" stroke="#cbab66" stroke-width="1.05" stroke-dasharray="1.5 1.2" stroke-linecap="butt"/><path d="M156.39,216.89 159.14,216.60 162.14,216.07 165.64,215.25 169.53,214.16" stroke="#cbab66" stroke-width="1.25"/><path d="M169.21,214.25 170.71,213.76 171.71,213.31 172.71,212.70 173.49,212.04" stroke="#cbab66" stroke-width="1.55"/><path d="M173.17,212.33 174.42,211.02 175.42,209.59 175.92,208.43 176.67,206.31 177.67,203.81 177.92,203.40 178.17,203.31 178.42,203.42 178.92,203.98 179.17,204.36 179.42,204.92 179.67,205.86 180.54,210.02" stroke="#cbab66" stroke-width="1.0"/><path d="M180.23,208.57 180.73,210.69 180.98,211.38 181.73,213.17 182.35,214.36" stroke="#cbab66" stroke-width="1.0"/><path d="M182.04,213.79 182.54,214.66 183.29,215.63 184.04,216.39 185.04,217.20 186.79,218.26 190.11,219.65" stroke="#cbab66" stroke-width="1.85"/><path d="M189.79,219.50 192.29,220.74 196.04,222.78 204.54,227.89 207.29,229.47 218.79,235.53 225.54,238.90 231.79,241.88 237.79,244.57 243.49,246.95" stroke="#cbab66" stroke-width="2.15"/><path d="M75.9,217.8 97.8,217.8 110.7,217.8 119.8,217.8 126.8,217.7 132.6,217.7 137.5,217.7 141.7,217.6 145.4,217.5 148.7,217.3 151.8,217.2 154.5,217.0 157.0,216.8 159.4,216.6 161.6,216.2 163.6,215.8 165.5,215.3 167.3,214.8 169.0,214.3 170.7,213.8 172.2,213.0 173.7,211.8 175.1,210.1 176.4,207.0 177.7,203.7 179.0,204.1 180.2,208.2 181.3,212.2" stroke="none" marker-start="url(#m0)" marker-mid="url(#m0)" marker-end="url(#m0)"/><path d="M25.10,217.80 136.10,217.80 144.35,217.65 156.70,217.18" stroke="#6860c8" stroke-width="1.05" stroke-dasharray="2.6 1.6" stroke-linecap="butt"/><path d="M156.39,217.20 163.14,216.86 169.53,216.39" stroke="#6860c8" stroke-width="1.25"/><path d="M169.21,216.42 172.21,216.09 177.71,215.34 178.96,215.31 180.54,215.44" stroke="#6860c8" stroke-width="1.55"/><path d="M180.23,215.40 182.73,215.84 183.23,215.97 183.73,216.18 184.48,216.65 185.98,217.78 188.73,219.69 190.11,220.56" stroke="#6860c8" stroke-width="1.85"/><path d="M189.79,220.38 191.04,221.07 194.54,222.76 196.29,223.69 204.54,228.46 207.29,229.98 218.79,235.84 225.54,239.11 231.79,241.99 237.79,244.62 243.49,246.95" stroke="#6860c8" stroke-width="2.15"/><path d="M75.9,217.8 97.8,217.8 110.7,217.8 119.8,217.8 126.8,217.8 132.6,217.8 137.5,217.8 141.7,217.7 145.4,217.6 148.7,217.5 151.8,217.4 154.5,217.3 157.0,217.2 159.4,217.1 161.6,216.9 163.6,216.8 165.5,216.7 167.3,216.6 169.0,216.4 170.7,216.3 172.2,216.1 173.7,215.9 175.1,215.7 176.4,215.5 177.7,215.3 179.0,215.3 180.2,215.4 181.3,215.6" stroke="none" marker-start="url(#m1)" marker-mid="url(#m1)" marker-end="url(#m1)"/><path d="M25.10,217.80 92.85,217.89 156.70,218.10" stroke="#d63c44" stroke-width="1.05"/><path d="M156.39,218.10 162.64,218.23 169.53,218.51" stroke="#d63c44" stroke-width="1.25"/><path d="M169.21,218.49 174.46,218.90 178.46,219.38 180.54,219.70" stroke="#d63c44" stroke-width="1.55"/><path d="M180.23,219.65 182.48,220.08 184.23,220.51 190.11,222.43" stroke="#d63c44" stroke-width="1.85"/><path d="M189.79,222.33 194.04,223.65 196.54,224.66 199.54,226.21 205.04,229.45 207.29,230.69 218.54,236.20 225.29,239.36 231.54,242.15 237.54,244.69 243.49,247.06" stroke="#d63c44" stroke-width="2.15"/><path d="M75.9,217.9 97.8,217.9 110.7,217.9 119.8,218.0 126.8,218.0 132.6,218.0 137.5,218.0 141.7,218.0 145.4,218.0 148.7,218.0 151.8,218.1 154.5,218.1 157.0,218.1 159.4,218.1 161.6,218.2 163.6,218.3 165.5,218.3 167.3,218.4 169.0,218.5 170.7,218.6 172.2,218.7 173.7,218.8 175.1,219.0 176.4,219.1 177.7,219.3 179.0,219.5 180.2,219.6 181.3,219.8" stroke="none" marker-start="url(#m2)" marker-mid="url(#m2)" marker-end="url(#m2)"/><path d="M25.10,217.80 74.10,217.86 114.60,218.04 125.10,218.24 139.85,218.65 148.60,218.99 156.70,219.43" stroke="#34a15b" stroke-width="1.05" stroke-dasharray="2.6 1 0.8 1" stroke-linecap="butt"/><path d="M156.39,219.41 161.39,219.82 169.53,220.71" stroke="#34a15b" stroke-width="1.25"/><path d="M169.21,220.68 180.54,222.04" stroke="#34a15b" stroke-width="1.55"/><path d="M180.23,222.00 182.48,222.31 183.98,222.61 190.11,224.53" stroke="#34a15b" stroke-width="1.85"/><path d="M189.79,224.44 194.54,225.57 195.79,225.96 197.29,226.55 200.04,227.86 207.04,231.59 217.04,236.14 224.04,239.22 230.79,242.09 237.29,244.74 243.49,247.16" stroke="#34a15b" stroke-width="2.15"/><path d="M75.9,217.9 97.8,217.9 110.7,218.0 119.8,218.1 126.8,218.3 132.6,218.4 137.5,218.6 141.7,218.7 145.4,218.9 148.7,219.0 151.8,219.1 154.5,219.3 157.0,219.4 159.4,219.6 161.6,219.8 163.6,220.1 165.5,220.3 167.3,220.5 169.0,220.7 170.7,220.8 172.2,221.0 173.7,221.2 175.1,221.4 176.4,221.5 177.7,221.7 179.0,221.8 180.2,222.0 181.3,222.1" stroke="none" marker-start="url(#m3)" marker-mid="url(#m3)" marker-end="url(#m3)"/><path d="M25.10,217.80 70.85,217.92 100.10,218.10 108.35,218.21 122.10,218.56 139.35,219.17 148.60,219.64 156.70,220.24" stroke="#2b63c4" stroke-width="1.05" stroke-dasharray="1.0 1.0" stroke-linecap="butt"/><path d="M156.39,220.21 160.64,220.73 169.53,222.22" stroke="#2b63c4" stroke-width="1.25"/><path d="M169.21,222.17 180.54,223.89" stroke="#2b63c4" stroke-width="1.55"/><path d="M180.23,223.84 183.73,224.46 188.48,225.82 190.11,226.22" stroke="#2b63c4" stroke-width="1.85"/><path d="M189.79,226.15 194.79,227.05 196.29,227.46 197.79,228.00 200.54,229.21 207.04,232.42 213.29,235.09 229.29,241.69 243.49,247.26" stroke="#2b63c4" stroke-width="2.15"/><path d="M75.9,217.9 97.8,218.1 110.7,218.3 119.8,218.5 126.8,218.7 132.6,218.9 137.5,219.1 141.7,219.3 145.4,219.5 148.7,219.6 151.8,219.8 154.5,220.1 157.0,220.3 159.4,220.6 161.6,220.9 163.6,221.2 165.5,221.6 167.3,221.9 169.0,222.1 170.7,222.4 172.2,222.6 173.7,222.8 175.1,223.1 176.4,223.3 177.7,223.5 179.0,223.7 180.2,223.8 181.3,224.0" stroke="none" marker-start="url(#m4)" marker-mid="url(#m4)" marker-end="url(#m4)"/><path d="M25.10,217.80 47.10,217.87 72.85,218.10 96.60,218.39 113.60,218.76 127.60,219.21 138.35,219.67 143.35,220.02 149.60,220.55 156.70,221.35" stroke="#3db5d6" stroke-width="1.05" stroke-dasharray="1.0 1.0" stroke-linecap="butt"/><path d="M156.39,221.31 160.64,221.98 169.53,223.62" stroke="#3db5d6" stroke-width="1.25"/><path d="M169.21,223.57 180.54,225.54" stroke="#3db5d6" stroke-width="1.55"/><path d="M180.23,225.48 183.98,226.22 190.11,227.82" stroke="#3db5d6" stroke-width="1.85"/><path d="M189.79,227.75 194.54,228.78 196.04,229.20 197.79,229.79 200.54,230.88 206.79,233.56 212.54,235.79 228.79,241.96 243.49,247.36" stroke="#3db5d6" stroke-width="2.15"/><path d="M75.9,218.1 97.8,218.4 110.7,218.7 119.8,218.9 126.8,219.2 132.6,219.4 137.5,219.6 141.7,219.9 145.4,220.2 148.7,220.5 151.8,220.8 154.5,221.1 157.0,221.4 159.4,221.8 161.6,222.1 163.6,222.5 165.5,222.9 167.3,223.2 169.0,223.5 170.7,223.8 172.2,224.1 173.7,224.3 175.1,224.6 176.4,224.8 177.7,225.0 179.0,225.3 180.2,225.5 181.3,225.7" stroke="none" marker-start="url(#m5)" marker-mid="url(#m5)" marker-end="url(#m5)"/></g>
<g clip-path="url(#c4)" fill="none" stroke-linejoin="round" stroke-linecap="round"><path d="M25.10,267.40 50.35,267.52 81.10,267.92 89.10,268.13 117.35,269.08 128.10,269.66 139.60,270.59 144.35,271.09 149.10,271.69 153.35,272.30 156.70,272.90" stroke="#cbab66" stroke-width="1.05" stroke-dasharray="1.5 1.2" stroke-linecap="butt"/><path d="M156.39,272.84 163.64,274.41 169.53,275.89" stroke="#cbab66" stroke-width="1.25"/><path d="M169.21,275.80 172.46,276.72 175.46,277.65 177.71,278.43 180.54,279.52" stroke="#cbab66" stroke-width="1.55"/><path d="M180.23,279.39 190.11,283.44" stroke="#cbab66" stroke-width="1.85"/><path d="M189.79,283.31 199.04,287.33 209.04,291.93 214.54,294.62 228.79,301.80 243.30,308.80" stroke="#cbab66" stroke-width="2.15"/><path d="M75.9,267.8 97.8,268.4 110.7,268.8 119.8,269.2 126.8,269.6 132.6,270.0 137.5,270.4 141.7,270.8 145.4,271.2 148.7,271.6 151.8,272.1 154.5,272.5 157.0,273.0 159.4,273.5 161.6,273.9 163.6,274.4 165.5,274.9 167.3,275.3 169.0,275.8 170.7,276.2 172.2,276.6 173.7,277.1 175.1,277.5 176.4,278.0 177.7,278.4 179.0,278.9 180.2,279.4 181.3,279.8" stroke="none" marker-start="url(#m0)" marker-mid="url(#m0)" marker-end="url(#m0)"/><path d="M25.10,267.40 72.85,267.56 121.85,268.03 129.85,268.21 138.60,268.52 149.60,269.03 156.70,269.46" stroke="#6860c8" stroke-width="1.05" stroke-dasharray="2.6 1.6" stroke-linecap="butt"/><path d="M156.39,269.44 164.14,270.16 169.53,270.95" stroke="#6860c8" stroke-width="1.25"/><path d="M169.21,270.90 175.71,272.15 180.54,273.31" stroke="#6860c8" stroke-width="1.55"/><path d="M180.23,273.23 182.98,273.99 185.73,274.84 187.98,275.63 190.11,276.45" stroke="#6860c8" stroke-width="1.85"/><path d="M189.79,276.32 193.54,277.93 197.79,279.95 214.79,288.41 222.29,292.28 227.79,295.28 232.54,298.01 237.54,301.08 243.30,304.80" stroke="#6860c8" stroke-width="2.15"/><path d="M75.9,267.6 97.8,267.8 110.7,267.9 119.8,268.0 126.8,268.1 132.6,268.3 137.5,268.5 141.7,268.7 145.4,268.8 148.7,269.0 151.8,269.1 154.5,269.3 157.0,269.5 159.4,269.7 161.6,269.9 163.6,270.1 165.5,270.3 167.3,270.6 169.0,270.9 170.7,271.2 172.2,271.4 173.7,271.7 175.1,272.0 176.4,272.3 177.7,272.6 179.0,272.9 180.2,273.2 181.3,273.5" stroke="none" marker-start="url(#m1)" marker-mid="url(#m1)" marker-end="url(#m1)"/><path d="M25.10,267.40 69.60,267.47 112.85,267.69 142.85,267.93 149.85,268.07 156.70,268.29" stroke="#d63c44" stroke-width="1.05"/><path d="M156.39,268.27 164.64,268.67 166.89,268.89 169.53,269.26" stroke="#d63c44" stroke-width="1.25"/><path d="M169.21,269.21 176.21,270.42 180.54,271.31" stroke="#d63c44" stroke-width="1.55"/><path d="M180.23,271.24 183.23,271.96 185.98,272.72 187.98,273.36 190.11,274.14" stroke="#d63c44" stroke-width="1.85"/><path d="M189.79,274.02 193.29,275.46 197.54,277.44 212.04,284.64 218.79,288.11 225.29,291.61 231.54,295.10 237.04,298.35 243.30,302.20" stroke="#d63c44" stroke-width="2.15"/><path d="M75.9,267.5 97.8,267.6 110.7,267.7 119.8,267.7 126.8,267.8 132.6,267.8 137.5,267.9 141.7,267.9 145.4,268.0 148.7,268.0 151.8,268.1 154.5,268.2 157.0,268.3 159.4,268.4 161.6,268.5 163.6,268.6 165.5,268.7 167.3,268.9 169.0,269.2 170.7,269.4 172.2,269.7 173.7,270.0 175.1,270.2 176.4,270.5 177.7,270.7 179.0,271.0 180.2,271.2 181.3,271.5" stroke="none" marker-start="url(#m2)" marker-mid="url(#m2)" marker-end="url(#m2)"/><path d="M25.10,267.40 74.10,267.47 119.85,267.66 143.60,267.84 150.10,267.97 156.70,268.19" stroke="#34a15b" stroke-width="1.05" stroke-dasharray="2.6 1 0.8 1" stroke-linecap="butt"/><path d="M156.39,268.17 164.64,268.57 166.89,268.78 169.53,269.12" stroke="#34a15b" stroke-width="1.25"/><path d="M169.21,269.08 176.21,270.21 180.54,271.06" stroke="#34a15b" stroke-width="1.55"/><path d="M180.23,270.99 183.23,271.69 185.98,272.42 187.98,273.05 190.11,273.81" stroke="#34a15b" stroke-width="1.85"/><path d="M189.79,273.69 193.29,275.11 197.54,277.07 211.54,283.98 217.54,287.06 224.29,290.67 231.29,294.55 237.04,297.90 243.30,301.70" stroke="#34a15b" stroke-width="2.15"/><path d="M75.9,267.5 97.8,267.6 110.7,267.6 119.8,267.7 126.8,267.7 132.6,267.7 137.5,267.8 141.7,267.8 145.4,267.9 148.7,267.9 151.8,268.0 154.5,268.1 157.0,268.2 159.4,268.3 161.6,268.4 163.6,268.5 165.5,268.6 167.3,268.8 169.0,269.1 170.7,269.3 172.2,269.5 173.7,269.8 175.1,270.0 176.4,270.2 177.7,270.5 179.0,270.7 180.2,271.0 181.3,271.2" stroke="none" marker-start="url(#m3)" marker-mid="url(#m3)" marker-end="url(#m3)"/><path d="M25.10,267.40 80.35,267.46 130.10,267.65 145.10,267.76 156.70,268.09" stroke="#2b63c4" stroke-width="1.05" stroke-dasharray="1.0 1.0" stroke-linecap="butt"/><path d="M156.39,268.07 164.64,268.46 169.53,268.98" stroke="#2b63c4" stroke-width="1.25"/><path d="M169.21,268.94 175.96,269.95 180.54,270.81" stroke="#2b63c4" stroke-width="1.55"/><path d="M180.23,270.74 183.23,271.41 185.98,272.12 187.98,272.73 190.11,273.47" stroke="#2b63c4" stroke-width="1.85"/><path d="M189.79,273.36 193.29,274.76 197.54,276.70 211.04,283.33 217.04,286.39 223.79,289.99 231.29,294.15 237.04,297.50 243.30,301.30" stroke="#2b63c4" stroke-width="2.15"/><path d="M75.9,267.5 97.8,267.5 110.7,267.6 119.8,267.6 126.8,267.6 132.6,267.7 137.5,267.7 141.7,267.7 145.4,267.8 148.7,267.8 151.8,267.9 154.5,268.0 157.0,268.1 159.4,268.2 161.6,268.3 163.6,268.4 165.5,268.5 167.3,268.7 169.0,268.9 170.7,269.1 172.2,269.4 173.7,269.6 175.1,269.8 176.4,270.0 177.7,270.3 179.0,270.5 180.2,270.7 181.3,271.0" stroke="none" marker-start="url(#m4)" marker-mid="url(#m4)" marker-end="url(#m4)"/><path d="M25.10,267.40 109.10,267.52 150.10,267.70 156.70,267.83" stroke="#3db5d6" stroke-width="1.05" stroke-dasharray="1.0 1.0" stroke-linecap="butt"/><path d="M156.39,267.82 164.39,268.14 169.53,268.59" stroke="#3db5d6" stroke-width="1.25"/><path d="M169.21,268.56 175.96,269.44 180.54,270.29" stroke="#3db5d6" stroke-width="1.55"/><path d="M180.23,270.22 182.98,270.85 185.98,271.62 187.98,272.22 190.11,272.96" stroke="#3db5d6" stroke-width="1.85"/><path d="M189.79,272.85 193.54,274.34 197.79,276.27 211.04,282.72 217.29,285.90 224.04,289.51 231.29,293.56 237.04,296.95 243.30,300.80" stroke="#3db5d6" stroke-width="2.15"/><path d="M75.9,267.4 97.8,267.5 110.7,267.5 119.8,267.6 126.8,267.6 132.6,267.6 137.5,267.6 141.7,267.7 145.4,267.7 148.7,267.7 151.8,267.7 154.5,267.8 157.0,267.8 159.4,267.9 161.6,268.0 163.6,268.1 165.5,268.2 167.3,268.4 169.0,268.5 170.7,268.7 172.2,268.9 173.7,269.1 175.1,269.3 176.4,269.5 177.7,269.7 179.0,270.0 180.2,270.2 181.3,270.5" stroke="none" marker-start="url(#m5)" marker-mid="url(#m5)" marker-end="url(#m5)"/></g>
<g clip-path="url(#c5)" fill="none" stroke-linejoin="round" stroke-linecap="round"><path d="M314.40,12.80 322.90,13.13 332.65,13.67 348.40,14.95 359.15,15.92 366.65,16.70 383.90,18.66 392.90,19.89 398.90,20.96 402.65,21.88 407.15,23.25 413.15,25.34 417.40,27.05 420.65,28.50 423.15,29.72 431.15,34.23 434.90,36.17 438.90,38.10 442.56,39.70" stroke="#cbab66" stroke-width="1.05" stroke-dasharray="1.5 1.2" stroke-linecap="butt"/><path d="M442.25,39.57 445.25,40.79 448.25,41.92 452.00,43.23 455.05,44.21" stroke="#cbab66" stroke-width="1.25"/><path d="M454.74,44.11 460.24,45.65 465.78,47.01" stroke="#cbab66" stroke-width="1.55"/><path d="M465.47,46.94 469.72,47.85 475.09,48.83" stroke="#cbab66" stroke-width="1.85"/><path d="M474.78,48.78 480.78,49.76 486.53,50.57 491.78,51.20 498.03,51.82 503.78,52.27 513.53,52.86 520.53,53.19 527.00,53.40" stroke="#cbab66" stroke-width="2.15"/><path d="M363.9,16.4 385.2,18.8 397.7,20.7 406.6,23.1 413.5,25.5 419.1,27.8 423.8,30.1 427.9,32.4 431.6,34.5 434.8,36.1 437.7,37.6 440.4,38.8 442.9,39.8 445.2,40.8 447.3,41.6 449.3,42.3 451.2,42.9 452.9,43.5 454.6,44.1 456.2,44.5 457.7,45.0 459.1,45.3 460.5,45.7 461.8,46.0 463.0,46.4 464.2,46.7 465.4,46.9 466.5,47.2" stroke="none" marker-start="url(#m0)" marker-mid="url(#m0)" marker-end="url(#m0)"/><path d="M314.40,12.70 360.15,14.44 372.15,15.01 376.90,15.33 399.90,17.16 405.40,17.65 410.15,18.15 414.90,18.78 419.40,19.56 424.65,20.70 428.90,21.80 433.15,23.16 437.15,24.69 439.90,25.93 442.56,27.50" stroke="#6860c8" stroke-width="1.05" stroke-dasharray="2.6 1.6" stroke-linecap="butt"/><path d="M442.25,27.30 447.25,30.68 455.05,35.79" stroke="#6860c8" stroke-width="1.25"/><path d="M454.74,35.60 456.99,36.94 459.74,38.44 462.74,39.96 465.78,41.39" stroke="#6860c8" stroke-width="1.55"/><path d="M465.47,41.25 469.72,43.10 475.09,45.03" stroke="#6860c8" stroke-width="1.85"/><path d="M474.78,44.93 479.78,46.47 485.53,47.93 490.53,48.98 496.28,49.91 502.78,50.74 512.03,51.63 520.03,52.25 527.00,52.60" stroke="#6860c8" stroke-width="2.15"/><path d="M363.9,14.6 385.2,16.0 397.7,17.0 406.6,17.8 413.5,18.6 419.1,19.5 423.8,20.5 427.9,21.5 431.6,22.6 434.8,23.8 437.7,24.9 440.4,26.2 442.9,27.7 445.2,29.3 447.3,30.7 449.3,32.0 451.2,33.2 452.9,34.4 454.6,35.5 456.2,36.5 457.7,37.3 459.1,38.1 460.5,38.8 461.8,39.5 463.0,40.1 464.2,40.7 465.4,41.2 466.5,41.7" stroke="none" marker-start="url(#m1)" marker-mid="url(#m1)" marker-end="url(#m1)"/><path d="M314.40,12.70 359.40,14.42 371.65,14.98 401.65,17.01 411.90,17.87 416.65,18.40 420.90,19.00 425.40,19.78 428.65,20.49 432.40,21.52 436.40,22.84 439.90,24.16 442.56,25.44" stroke="#d63c44" stroke-width="1.05"/><path d="M442.25,25.28 444.50,26.49 449.25,29.21 455.05,32.77" stroke="#d63c44" stroke-width="1.25"/><path d="M454.74,32.59 461.99,36.99 465.78,39.07" stroke="#d63c44" stroke-width="1.55"/><path d="M465.47,38.91 469.72,40.96 475.09,43.16" stroke="#d63c44" stroke-width="1.85"/><path d="M474.78,43.04 477.53,44.05 480.03,44.90 486.28,46.70 491.28,47.89 499.03,49.38 503.78,50.04 514.28,51.06 521.03,51.52 527.00,51.70" stroke="#d63c44" stroke-width="2.15"/><path d="M363.9,14.6 385.2,15.9 397.7,16.7 406.6,17.4 413.5,18.0 419.1,18.7 423.8,19.5 427.9,20.3 431.6,21.3 434.8,22.3 437.7,23.3 440.4,24.4 442.9,25.6 445.2,26.9 447.3,28.1 449.3,29.2 451.2,30.4 452.9,31.4 454.6,32.5 456.2,33.5 457.7,34.4 459.1,35.2 460.5,36.1 461.8,36.9 463.0,37.6 464.2,38.3 465.4,38.9 466.5,39.4" stroke="none" marker-start="url(#m2)" marker-mid="url(#m2)" marker-end="url(#m2)"/><path d="M314.40,12.70 356.15,14.18 377.65,15.04 399.15,16.16 406.15,16.62 412.15,17.10 416.40,17.51 420.65,18.04 424.90,18.70 427.90,19.28 431.15,20.11 434.65,21.16 439.65,22.82 442.56,23.94" stroke="#34a15b" stroke-width="1.05" stroke-dasharray="2.6 1 0.8 1" stroke-linecap="butt"/><path d="M442.25,23.81 445.25,25.08 449.25,26.88 452.00,28.21 455.05,29.78" stroke="#34a15b" stroke-width="1.25"/><path d="M454.74,29.61 457.99,31.40 463.24,34.57 465.78,36.03" stroke="#34a15b" stroke-width="1.55"/><path d="M465.47,35.85 469.72,38.20 475.09,40.91" stroke="#34a15b" stroke-width="1.85"/><path d="M474.78,40.76 477.53,42.06 479.78,43.03 482.28,43.96 485.28,44.97 488.03,45.80 491.03,46.61 495.28,47.63 498.78,48.39 501.28,48.85 503.78,49.23 514.28,50.44 521.03,50.99 527.00,51.20" stroke="#34a15b" stroke-width="2.15"/><path d="M363.9,14.5 385.2,15.4 397.7,16.1 406.6,16.7 413.5,17.2 419.1,17.8 423.8,18.5 427.9,19.3 431.6,20.2 434.8,21.2 437.7,22.2 440.4,23.1 442.9,24.1 445.2,25.0 447.3,26.0 449.3,26.9 451.2,27.8 452.9,28.7 454.6,29.5 456.2,30.4 457.7,31.2 459.1,32.1 460.5,32.9 461.8,33.7 463.0,34.4 464.2,35.2 465.4,35.8 466.5,36.5" stroke="none" marker-start="url(#m3)" marker-mid="url(#m3)" marker-end="url(#m3)"/><path d="M314.40,12.60 365.65,14.36 385.65,15.22 404.65,15.78 412.90,16.14 415.90,16.37 419.15,16.71 428.65,17.93 436.15,19.17 439.65,19.83 442.56,20.45" stroke="#2b63c4" stroke-width="1.05" stroke-dasharray="1.0 1.0" stroke-linecap="butt"/><path d="M442.25,20.38 450.25,22.30 455.05,23.53" stroke="#2b63c4" stroke-width="1.25"/><path d="M454.74,23.45 460.99,25.24 465.78,26.87" stroke="#2b63c4" stroke-width="1.55"/><path d="M465.47,26.75 470.22,28.68 475.09,30.86" stroke="#2b63c4" stroke-width="1.85"/><path d="M474.78,30.71 481.78,34.09 488.28,37.58 490.78,38.84 495.78,40.98 500.53,42.78 504.78,44.14 509.78,45.43 519.03,47.47 527.00,49.00" stroke="#2b63c4" stroke-width="2.15"/><path d="M363.9,14.3 385.2,15.2 397.7,15.6 406.6,15.8 413.5,16.2 419.1,16.7 423.8,17.3 427.9,17.8 431.6,18.4 434.8,18.9 437.7,19.5 440.4,20.0 442.9,20.5 445.2,21.1 447.3,21.6 449.3,22.1 451.2,22.5 452.9,23.0 454.6,23.4 456.2,23.8 457.7,24.3 459.1,24.7 460.5,25.1 461.8,25.5 463.0,25.9 464.2,26.3 465.4,26.7 466.5,27.2" stroke="none" marker-start="url(#m4)" marker-mid="url(#m4)" marker-end="url(#m4)"/><path d="M314.40,12.60 360.40,13.92 385.15,14.80 406.15,15.24 413.90,15.46 420.15,15.77 427.40,16.24 442.56,17.64" stroke="#3db5d6" stroke-width="1.05" stroke-dasharray="1.0 1.0" stroke-linecap="butt"/><path d="M442.25,17.61 455.05,18.84" stroke="#3db5d6" stroke-width="1.25"/><path d="M454.74,18.81 459.74,19.47 465.78,20.56" stroke="#3db5d6" stroke-width="1.55"/><path d="M465.47,20.50 475.09,22.47" stroke="#3db5d6" stroke-width="1.85"/><path d="M474.78,22.40 479.53,23.52 484.03,24.74 488.53,26.15 492.78,27.67 496.28,29.13 500.78,31.21 505.28,33.38 511.03,36.38 513.53,37.57 517.28,39.17 520.78,40.55 524.03,41.73 527.00,42.70" stroke="#3db5d6" stroke-width="2.15"/><path d="M363.9,14.0 385.2,14.8 397.7,15.1 406.6,15.2 413.5,15.4 419.1,15.7 423.8,16.0 427.9,16.3 431.6,16.6 434.8,16.9 437.7,17.2 440.4,17.4 442.9,17.7 445.2,17.9 447.3,18.1 449.3,18.3 451.2,18.5 452.9,18.6 454.6,18.8 456.2,19.0 457.7,19.2 459.1,19.4 460.5,19.6 461.8,19.8 463.0,20.0 464.2,20.3 465.4,20.5 466.5,20.7" stroke="none" marker-start="url(#m5)" marker-mid="url(#m5)" marker-end="url(#m5)"/></g>
<g clip-path="url(#c6)" fill="none" stroke-linejoin="round" stroke-linecap="round"><path d="M314.40,73.21 322.65,73.84 329.90,74.28 352.90,75.15 364.90,75.69 390.90,77.25 397.15,77.72 408.65,79.08 415.65,80.03 419.90,80.68 423.65,81.38 431.40,83.00 438.40,84.33 442.56,85.30" stroke="#cbab66" stroke-width="1.05" stroke-dasharray="1.5 1.2" stroke-linecap="butt"/><path d="M442.25,85.22 444.50,85.88 447.00,86.72 452.00,88.53 455.05,89.72" stroke="#cbab66" stroke-width="1.25"/><path d="M454.74,89.59 456.99,90.55 458.74,91.37 463.74,94.29 465.78,95.29" stroke="#cbab66" stroke-width="1.55"/><path d="M465.47,95.16 470.72,97.26 475.09,99.38" stroke="#cbab66" stroke-width="1.85"/><path d="M474.78,99.23 481.28,102.48 484.78,104.05 488.28,105.43 492.53,106.77 495.53,107.58 500.28,108.69 507.28,110.43 518.03,112.61 522.78,113.46 527.00,114.14" stroke="#cbab66" stroke-width="2.15"/><path d="M363.9,75.6 385.2,76.9 397.7,77.8 406.6,78.8 413.5,79.7 419.1,80.5 423.8,81.4 427.9,82.3 431.6,83.0 434.8,83.6 437.7,84.2 440.4,84.8 442.9,85.4 445.2,86.1 447.3,86.8 449.3,87.5 451.2,88.2 452.9,88.9 454.6,89.5 456.2,90.2 457.7,90.9 459.1,91.6 460.5,92.3 461.8,93.1 463.0,93.9 464.2,94.6 465.4,95.1 466.5,95.6" stroke="none" marker-start="url(#m0)" marker-mid="url(#m0)" marker-end="url(#m0)"/><path d="M314.40,73.71 322.65,74.34 329.90,74.78 352.90,75.65 364.90,76.19 390.90,77.75 397.15,78.22 408.65,79.58 415.65,80.53 419.90,81.18 423.65,81.88 431.40,83.50 438.40,84.83 442.56,85.80" stroke="#6860c8" stroke-width="1.05" stroke-dasharray="2.6 1.6" stroke-linecap="butt"/><path d="M442.25,85.72 444.50,86.38 447.25,87.31 451.75,88.95 455.05,90.24" stroke="#6860c8" stroke-width="1.25"/><path d="M454.74,90.12 458.74,91.85 463.74,94.44 465.78,95.38" stroke="#6860c8" stroke-width="1.55"/><path d="M465.47,95.25 470.72,97.36 475.09,99.48" stroke="#6860c8" stroke-width="1.85"/><path d="M474.78,99.33 481.28,102.58 484.78,104.15 488.28,105.53 492.53,106.87 495.53,107.68 500.28,108.79 507.28,110.53 518.03,112.71 522.78,113.56 527.00,114.24" stroke="#6860c8" stroke-width="2.15"/><path d="M363.9,76.1 385.2,77.4 397.7,78.3 406.6,79.3 413.5,80.2 419.1,81.0 423.8,81.9 427.9,82.8 431.6,83.5 434.8,84.1 437.7,84.7 440.4,85.3 442.9,85.9 445.2,86.6 447.3,87.3 449.3,88.0 451.2,88.7 452.9,89.4 454.6,90.1 456.2,90.7 457.7,91.4 459.1,92.0 460.5,92.7 461.8,93.4 463.0,94.1 464.2,94.7 465.4,95.2 466.5,95.7" stroke="none" marker-start="url(#m1)" marker-mid="url(#m1)" marker-end="url(#m1)"/><path d="M314.40,74.21 322.65,74.84 329.90,75.28 352.90,76.15 364.90,76.69 390.90,78.25 397.15,78.72 408.65,80.08 415.65,81.03 419.90,81.68 423.65,82.38 431.40,84.00 438.40,85.33 442.56,86.30" stroke="#d63c44" stroke-width="1.05"/><path d="M442.25,86.22 444.75,86.96 447.50,87.90 451.50,89.36 455.05,90.78" stroke="#d63c44" stroke-width="1.25"/><path d="M454.74,90.65 458.99,92.44 465.78,95.46" stroke="#d63c44" stroke-width="1.55"/><path d="M465.47,95.34 470.72,97.46 475.09,99.58" stroke="#d63c44" stroke-width="1.85"/><path d="M474.78,99.43 481.28,102.68 484.78,104.25 488.28,105.63 492.53,106.97 495.53,107.78 500.28,108.89 507.28,110.63 518.03,112.81 522.78,113.66 527.00,114.34" stroke="#d63c44" stroke-width="2.15"/><path d="M363.9,76.6 385.2,77.9 397.7,78.8 406.6,79.8 413.5,80.7 419.1,81.5 423.8,82.4 427.9,83.3 431.6,84.0 434.8,84.6 437.7,85.2 440.4,85.8 442.9,86.4 445.2,87.1 447.3,87.8 449.3,88.5 451.2,89.2 452.9,89.9 454.6,90.6 456.2,91.2 457.7,91.9 459.1,92.5 460.5,93.1 461.8,93.7 463.0,94.3 464.2,94.8 465.4,95.3 466.5,95.8" stroke="none" marker-start="url(#m2)" marker-mid="url(#m2)" marker-end="url(#m2)"/><path d="M314.40,73.41 322.65,74.04 329.90,74.48 352.90,75.35 364.90,75.89 390.90,77.45 397.15,77.92 408.65,79.28 415.65,80.23 419.90,80.88 423.65,81.58 431.40,83.20 438.40,84.53 442.56,85.50" stroke="#34a15b" stroke-width="1.05" stroke-dasharray="2.6 1 0.8 1" stroke-linecap="butt"/><path d="M442.25,85.42 444.50,86.08 447.00,86.92 451.75,88.64 455.05,89.93" stroke="#34a15b" stroke-width="1.25"/><path d="M454.74,89.80 458.74,91.56 463.74,94.35 465.78,95.33" stroke="#34a15b" stroke-width="1.55"/><path d="M465.47,95.19 470.72,97.30 475.09,99.42" stroke="#34a15b" stroke-width="1.85"/><path d="M474.78,99.27 481.28,102.52 484.78,104.09 488.28,105.47 492.53,106.81 495.53,107.62 500.28,108.73 507.28,110.47 518.03,112.65 522.78,113.50 527.00,114.18" stroke="#34a15b" stroke-width="2.15"/><path d="M363.9,75.8 385.2,77.1 397.7,78.0 406.6,79.0 413.5,79.9 419.1,80.7 423.8,81.6 427.9,82.5 431.6,83.2 434.8,83.8 437.7,84.4 440.4,85.0 442.9,85.6 445.2,86.3 447.3,87.0 449.3,87.7 451.2,88.4 452.9,89.1 454.6,89.7 456.2,90.4 457.7,91.1 459.1,91.7 460.5,92.5 461.8,93.2 463.0,94.0 464.2,94.6 465.4,95.2 466.5,95.6" stroke="none" marker-start="url(#m3)" marker-mid="url(#m3)" marker-end="url(#m3)"/><path d="M314.40,73.21 322.65,73.84 329.90,74.28 352.90,75.15 364.90,75.69 390.90,77.25 397.15,77.72 408.65,79.08 415.65,80.03 419.90,80.68 423.65,81.38 431.40,83.00 438.40,84.33 442.56,85.30" stroke="#2b63c4" stroke-width="1.05" stroke-dasharray="1.0 1.0" stroke-linecap="butt"/><path d="M442.25,85.22 444.50,85.88 447.00,86.72 452.00,88.53 455.05,89.72" stroke="#2b63c4" stroke-width="1.25"/><path d="M454.74,89.59 456.99,90.55 458.74,91.37 463.74,94.29 465.78,95.29" stroke="#2b63c4" stroke-width="1.55"/><path d="M465.47,95.16 470.72,97.26 475.09,99.38" stroke="#2b63c4" stroke-width="1.85"/><path d="M474.78,99.23 481.28,102.48 484.78,104.05 488.28,105.43 492.53,106.77 495.53,107.58 500.28,108.69 507.28,110.43 518.03,112.61 522.78,113.46 527.00,114.14" stroke="#2b63c4" stroke-width="2.15"/><path d="M363.9,75.6 385.2,76.9 397.7,77.8 406.6,78.8 413.5,79.7 419.1,80.5 423.8,81.4 427.9,82.3 431.6,83.0 434.8,83.6 437.7,84.2 440.4,84.8 442.9,85.4 445.2,86.1 447.3,86.8 449.3,87.5 451.2,88.2 452.9,88.9 454.6,89.5 456.2,90.2 457.7,90.9 459.1,91.6 460.5,92.3 461.8,93.1 463.0,93.9 464.2,94.6 465.4,95.1 466.5,95.6" stroke="none" marker-start="url(#m4)" marker-mid="url(#m4)" marker-end="url(#m4)"/><path d="M314.40,73.01 322.65,73.64 329.90,74.08 352.90,74.95 364.90,75.49 390.90,77.05 397.15,77.52 408.65,78.88 415.65,79.83 419.90,80.48 423.65,81.18 431.40,82.80 438.40,84.13 442.56,85.10" stroke="#3db5d6" stroke-width="1.05" stroke-dasharray="1.0 1.0" stroke-linecap="butt"/><path d="M442.25,85.02 444.25,85.60 446.75,86.43 452.00,88.33 455.05,89.51" stroke="#3db5d6" stroke-width="1.25"/><path d="M454.74,89.38 456.99,90.34 458.74,91.17 459.99,91.89 463.74,94.23 465.78,95.25" stroke="#3db5d6" stroke-width="1.55"/><path d="M465.47,95.12 470.72,97.22 475.09,99.34" stroke="#3db5d6" stroke-width="1.85"/><path d="M474.78,99.19 481.28,102.44 484.78,104.01 488.28,105.39 492.53,106.73 495.53,107.54 500.28,108.65 507.28,110.39 518.03,112.57 522.78,113.42 527.00,114.10" stroke="#3db5d6" stroke-width="2.15"/><path d="M363.9,75.4 385.2,76.7 397.7,77.6 406.6,78.6 413.5,79.5 419.1,80.3 423.8,81.2 427.9,82.1 431.6,82.8 434.8,83.4 437.7,84.0 440.4,84.6 442.9,85.2 445.2,85.9 447.3,86.6 449.3,87.3 451.2,88.0 452.9,88.7 454.6,89.3 456.2,90.0 457.7,90.6 459.1,91.4 460.5,92.2 461.8,93.0 463.0,93.8 464.2,94.5 465.4,95.1 466.5,95.6" stroke="none" marker-start="url(#m5)" marker-mid="url(#m5)" marker-end="url(#m5)"/></g>
<g clip-path="url(#c7)" fill="none" stroke-linejoin="round" stroke-linecap="round"><path d="M314.40,136.60 321.65,136.78 329.65,137.10 341.15,137.69 348.40,138.16 355.40,138.74 363.15,139.52 368.90,140.23 375.15,141.12 382.65,142.33 391.90,143.94 397.65,145.08 404.65,146.59 419.15,150.11 429.15,152.24 432.90,153.12 436.90,154.25 442.56,156.15" stroke="#cbab66" stroke-width="1.05" stroke-dasharray="1.5 1.2" stroke-linecap="butt"/><path d="M442.25,156.04 447.75,157.86 455.05,159.98" stroke="#cbab66" stroke-width="1.25"/><path d="M454.74,159.89 459.99,161.30 465.78,162.69" stroke="#cbab66" stroke-width="1.55"/><path d="M465.47,162.63 467.47,162.93 472.22,163.28 475.09,163.61" stroke="#cbab66" stroke-width="1.85"/><path d="M474.78,163.57 477.03,163.93 478.78,164.38 479.78,164.91 481.78,166.29 482.53,166.72 484.28,167.46 486.28,168.20 492.28,170.06 498.03,171.59 505.78,173.40 512.03,174.60 520.03,175.78 527.07,176.58" stroke="#cbab66" stroke-width="2.15"/><path d="M363.9,139.6 385.2,142.8 397.7,145.1 406.6,147.0 413.5,148.7 419.1,150.1 423.8,151.1 427.9,152.0 431.6,152.8 434.8,153.6 437.7,154.5 440.4,155.4 442.9,156.3 445.2,157.0 447.3,157.7 449.3,158.3 451.2,158.9 452.9,159.4 454.6,159.8 456.2,160.3 457.7,160.7 459.1,161.1 460.5,161.4 461.8,161.7 463.0,162.1 464.2,162.4 465.4,162.6 466.5,162.8" stroke="none" marker-start="url(#m0)" marker-mid="url(#m0)" marker-end="url(#m0)"/><path d="M314.40,136.50 332.15,137.05 344.15,137.55 352.15,137.96 364.15,138.77 369.40,139.28 375.15,139.93 398.65,142.87 402.90,143.47 406.40,144.03 418.90,146.56 428.65,148.21 432.65,148.99 434.90,149.52 437.15,150.14 442.56,151.90" stroke="#6860c8" stroke-width="1.05" stroke-dasharray="2.6 1.6" stroke-linecap="butt"/><path d="M442.25,151.79 449.00,154.19 455.05,156.50" stroke="#6860c8" stroke-width="1.25"/><path d="M454.74,156.38 461.49,158.63 465.78,160.21" stroke="#6860c8" stroke-width="1.55"/><path d="M465.47,160.11 467.47,160.71 471.97,161.67 475.09,162.56" stroke="#6860c8" stroke-width="1.85"/><path d="M474.78,162.46 476.78,163.15 478.53,163.91 479.53,164.55 482.03,166.42 482.78,166.84 484.03,167.39 485.78,168.06 487.53,168.65 494.53,170.69 498.53,171.71 503.78,172.96 507.03,173.67 510.53,174.34 514.03,174.93 519.03,175.65 523.28,176.18 527.07,176.58" stroke="#6860c8" stroke-width="2.15"/><path d="M363.9,138.8 385.2,141.2 397.7,142.8 406.6,144.1 413.5,145.5 419.1,146.6 423.8,147.4 427.9,148.1 431.6,148.8 434.8,149.5 437.7,150.3 440.4,151.2 442.9,152.0 445.2,152.8 447.3,153.6 449.3,154.3 451.2,155.0 452.9,155.7 454.6,156.3 456.2,156.9 457.7,157.4 459.1,157.8 460.5,158.3 461.8,158.7 463.0,159.2 464.2,159.7 465.4,160.1 466.5,160.5" stroke="none" marker-start="url(#m1)" marker-mid="url(#m1)" marker-end="url(#m1)"/><path d="M314.40,136.50 336.40,137.15 347.90,137.60 357.40,138.05 365.40,138.51 373.40,139.06 381.40,139.70 389.40,140.44 395.90,141.17 405.65,142.47 429.15,145.99 432.65,146.61 435.90,147.30 439.15,148.11 442.56,149.08" stroke="#d63c44" stroke-width="1.05"/><path d="M442.25,148.99 445.75,150.08 449.00,151.19 451.00,151.98 455.05,153.73" stroke="#d63c44" stroke-width="1.25"/><path d="M454.74,153.60 461.24,156.27 465.78,158.63" stroke="#d63c44" stroke-width="1.55"/><path d="M465.47,158.48 466.72,159.08 467.97,159.59 471.97,160.99 475.09,162.16" stroke="#d63c44" stroke-width="1.85"/><path d="M474.78,162.04 476.78,162.86 478.53,163.73 479.53,164.43 481.78,166.24 482.53,166.71 483.53,167.19 485.28,167.90 487.03,168.50 493.53,170.41 497.78,171.53 503.03,172.79 506.78,173.61 510.28,174.29 513.78,174.89 518.78,175.61 523.03,176.15 527.07,176.58" stroke="#d63c44" stroke-width="2.15"/><path d="M363.9,138.4 385.2,140.0 397.7,141.4 406.6,142.6 413.5,143.6 419.1,144.5 423.8,145.2 427.9,145.8 431.6,146.4 434.8,147.1 437.7,147.7 440.4,148.5 442.9,149.2 445.2,149.9 447.3,150.6 449.3,151.3 451.2,152.0 452.9,152.8 454.6,153.5 456.2,154.2 457.7,154.8 459.1,155.4 460.5,155.9 461.8,156.5 463.0,157.2 464.2,157.8 465.4,158.4 466.5,159.0" stroke="none" marker-start="url(#m2)" marker-mid="url(#m2)" marker-end="url(#m2)"/><path d="M314.40,136.50 334.90,137.03 355.65,137.79 368.90,138.50 384.15,139.62 394.65,140.50 404.40,141.42 414.40,142.47 425.65,143.76 430.40,144.40 434.65,145.08 438.65,145.87 442.56,146.80" stroke="#34a15b" stroke-width="1.05" stroke-dasharray="2.6 1 0.8 1" stroke-linecap="butt"/><path d="M442.25,146.72 446.00,147.74 449.25,148.75 451.75,149.73 455.05,151.20" stroke="#34a15b" stroke-width="1.25"/><path d="M454.74,151.06 457.74,152.46 460.74,154.00 462.49,154.98 465.78,156.99" stroke="#34a15b" stroke-width="1.55"/><path d="M465.47,156.80 466.97,157.68 469.47,159.02 472.97,160.81 475.09,161.81" stroke="#34a15b" stroke-width="1.85"/><path d="M474.78,161.67 477.03,162.75 478.53,163.61 479.28,164.16 481.78,166.23 483.03,166.96 484.78,167.72 486.53,168.35 492.78,170.20 496.78,171.28 502.03,172.55 506.03,173.46 509.78,174.20 513.53,174.85 518.28,175.54 522.78,176.12 527.07,176.58" stroke="#34a15b" stroke-width="2.15"/><path d="M363.9,138.2 385.2,139.7 397.7,140.8 406.6,141.6 413.5,142.4 419.1,143.0 423.8,143.5 427.9,144.1 431.6,144.6 434.8,145.1 437.7,145.7 440.4,146.3 442.9,146.9 445.2,147.5 447.3,148.1 449.3,148.8 451.2,149.5 452.9,150.2 454.6,151.0 456.2,151.7 457.7,152.4 459.1,153.1 460.5,153.9 461.8,154.6 463.0,155.3 464.2,156.0 465.4,156.8 466.5,157.4" stroke="none" marker-start="url(#m3)" marker-mid="url(#m3)" marker-end="url(#m3)"/><path d="M314.40,136.50 330.15,136.82 348.65,137.40 364.15,138.11 378.40,138.98 398.40,140.46 428.15,143.11 432.15,143.53 435.40,143.94 438.90,144.48 442.56,145.14" stroke="#2b63c4" stroke-width="1.05" stroke-dasharray="1.0 1.0" stroke-linecap="butt"/><path d="M442.25,145.08 449.75,146.65 452.50,147.35 455.05,148.09" stroke="#2b63c4" stroke-width="1.25"/><path d="M454.74,148.00 458.49,149.30 459.99,149.95 461.24,150.57 462.24,151.16 463.24,151.86 465.78,153.95" stroke="#2b63c4" stroke-width="1.55"/><path d="M465.47,153.68 467.47,155.41 470.78,158.53" stroke="#2b63c4" stroke-width="1.85"/><path d="M470.48,158.25 471.98,159.61 473.15,160.48" stroke="#2b63c4" stroke-width="1.0"/><path d="M472.85,160.27 475.09,161.57" stroke="#2b63c4" stroke-width="1.85"/><path d="M474.78,161.41 477.53,162.91 478.53,163.52 481.53,166.03 482.78,166.84 484.53,167.62 486.28,168.27 492.28,170.06 496.28,171.15 501.03,172.32 505.78,173.40 509.53,174.15 513.53,174.85 518.28,175.54 522.78,176.12 527.07,176.58" stroke="#2b63c4" stroke-width="2.15"/><path d="M363.9,138.1 385.2,139.5 397.7,140.4 406.6,141.2 413.5,141.8 419.1,142.3 423.8,142.7 427.9,143.1 431.6,143.5 434.8,143.9 437.7,144.3 440.4,144.7 442.9,145.2 445.2,145.7 447.3,146.1 449.3,146.5 451.2,147.0 452.9,147.5 454.6,147.9 456.2,148.5 457.7,149.0 459.1,149.5 460.5,150.2 461.8,150.9 463.0,151.7 464.2,152.6 465.4,153.6 466.5,154.6" stroke="none" marker-start="url(#m4)" marker-mid="url(#m4)" marker-end="url(#m4)"/><path d="M314.40,136.50 328.40,136.74 345.40,137.17 357.15,137.59 367.90,138.10 398.15,140.04 427.15,142.07 435.15,142.75 442.56,143.59" stroke="#3db5d6" stroke-width="1.05" stroke-dasharray="1.0 1.0" stroke-linecap="butt"/><path d="M442.25,143.55 449.00,144.54 455.05,145.85" stroke="#3db5d6" stroke-width="1.25"/><path d="M454.74,145.78 460.99,147.22 463.74,148.03 465.78,148.77" stroke="#3db5d6" stroke-width="1.55"/><path d="M465.47,148.65 468.47,149.97 469.22,150.41 469.72,150.79 470.47,151.58 470.72,152.11 471.09,153.26" stroke="#3db5d6" stroke-width="1.85"/><path d="M470.78,152.28 471.53,154.79 472.53,158.77 473.15,159.95" stroke="#3db5d6" stroke-width="1.0"/><path d="M472.85,159.44 473.35,160.23 473.85,160.86 474.35,161.36 475.09,161.92" stroke="#3db5d6" stroke-width="1.85"/><path d="M474.78,161.71 475.78,162.30 477.78,163.10 478.53,163.50 479.53,164.26 481.78,166.21 482.53,166.71 483.28,167.08 484.78,167.72 486.53,168.35 492.78,170.20 496.78,171.28 502.03,172.55 506.03,173.46 509.78,174.20 513.53,174.85 518.28,175.54 522.78,176.12 527.07,176.58" stroke="#3db5d6" stroke-width="2.15"/><path d="M363.9,137.9 385.2,139.2 397.7,140.0 406.6,140.6 413.5,141.1 419.1,141.5 423.8,141.8 427.9,142.1 431.6,142.4 434.8,142.7 437.7,143.0 440.4,143.3 442.9,143.6 445.2,143.9 447.3,144.3 449.3,144.6 451.2,145.0 452.9,145.4 454.6,145.7 456.2,146.1 457.7,146.4 459.1,146.7 460.5,147.1 461.8,147.4 463.0,147.8 464.2,148.2 465.4,148.6 466.5,149.1" stroke="none" marker-start="url(#m5)" marker-mid="url(#m5)" marker-end="url(#m5)"/></g>
<g clip-path="url(#c8)" fill="none" stroke-linejoin="round" stroke-linecap="round"><path d="M314.40,199.80 334.65,200.34 355.90,201.05 374.90,201.88 385.90,202.56 390.40,202.94 392.65,203.23 395.15,203.67 401.90,205.04 405.90,205.63 412.65,206.37 432.15,208.24 437.65,208.89 442.56,209.57" stroke="#cbab66" stroke-width="1.05" stroke-dasharray="1.5 1.2" stroke-linecap="butt"/><path d="M442.25,209.52 448.50,210.56 453.25,211.75 455.05,212.11" stroke="#cbab66" stroke-width="1.25"/><path d="M454.74,212.06 457.99,212.39 459.24,212.59 459.99,212.88 460.49,213.28 460.99,213.89 461.49,214.71 461.74,215.59 462.33,219.40" stroke="#cbab66" stroke-width="1.55"/><path d="M462.02,217.29 462.77,223.24 463.02,224.58 463.27,225.54 463.52,226.26 463.77,226.71 464.27,227.33 465.04,228.03" stroke="#cbab66" stroke-width="1.0"/><path d="M464.74,227.78 465.78,228.51" stroke="#cbab66" stroke-width="1.55"/><path d="M465.47,228.32 467.72,229.66 469.47,230.49 471.47,231.24 475.09,232.38" stroke="#cbab66" stroke-width="1.85"/><path d="M474.78,232.29 480.28,233.89 488.78,236.11 494.03,237.32 499.03,238.29 505.03,239.29 510.78,240.09 519.03,241.00 526.30,241.60" stroke="#cbab66" stroke-width="2.15"/><path d="M363.9,201.4 385.2,202.5 397.7,204.2 406.6,205.7 413.5,206.4 419.1,207.0 423.8,207.4 427.9,207.8 431.6,208.2 434.8,208.5 437.7,208.9 440.4,209.3 442.9,209.6 445.2,210.0 447.3,210.3 449.3,210.7 451.2,211.2 452.9,211.7 454.6,212.0 456.2,212.2 457.7,212.4 459.1,212.6 460.5,213.3 461.8,215.8 463.0,224.6 464.2,227.3 465.4,228.3 466.5,229.0" stroke="none" marker-start="url(#m0)" marker-mid="url(#m0)" marker-end="url(#m0)"/><path d="M314.40,199.80 333.40,200.29 352.90,200.98 375.90,202.10 383.15,202.54 389.65,203.02 394.15,203.45 399.40,204.10 416.90,206.70 430.90,208.52 442.56,210.19" stroke="#6860c8" stroke-width="1.05" stroke-dasharray="2.6 1.6" stroke-linecap="butt"/><path d="M442.25,210.14 446.25,210.87 449.25,211.58 451.75,212.43 455.05,213.82" stroke="#6860c8" stroke-width="1.25"/><path d="M454.74,213.68 457.49,215.03 458.74,215.78 459.74,216.47 460.99,217.57 463.24,219.86 465.78,222.27" stroke="#6860c8" stroke-width="1.55"/><path d="M465.47,221.99 467.47,223.71 469.47,225.18 472.22,226.80 475.09,228.15" stroke="#6860c8" stroke-width="1.85"/><path d="M474.78,228.02 478.28,229.34 488.03,232.53 492.78,233.95 497.03,235.05 503.03,236.35 510.53,237.74 518.78,239.11 526.30,240.20" stroke="#6860c8" stroke-width="2.15"/><path d="M363.9,201.5 385.2,202.7 397.7,203.9 406.6,205.1 413.5,206.2 419.1,207.0 423.8,207.6 427.9,208.1 431.6,208.6 434.8,209.1 437.7,209.5 440.4,209.9 442.9,210.2 445.2,210.7 447.3,211.1 449.3,211.6 451.2,212.2 452.9,212.9 454.6,213.6 456.2,214.3 457.7,215.1 459.1,216.0 460.5,217.1 461.8,218.4 463.0,219.7 464.2,220.8 465.4,221.9 466.5,222.9" stroke="none" marker-start="url(#m1)" marker-mid="url(#m1)" marker-end="url(#m1)"/><path d="M314.40,199.80 335.65,200.44 356.40,201.24 377.90,202.30 384.90,202.74 390.90,203.20 395.40,203.68 400.65,204.38 417.40,207.04 429.65,208.84 436.40,210.01 442.56,211.28" stroke="#d63c44" stroke-width="1.05"/><path d="M442.25,211.22 446.00,212.11 449.25,213.01 452.00,213.94 455.05,215.12" stroke="#d63c44" stroke-width="1.25"/><path d="M454.74,214.99 457.49,216.18 459.49,217.22 460.74,218.06 463.49,220.16 465.78,221.67" stroke="#d63c44" stroke-width="1.55"/><path d="M465.47,221.47 467.97,223.02 470.47,224.43 472.97,225.71 475.09,226.64" stroke="#d63c44" stroke-width="1.85"/><path d="M474.78,226.52 478.78,228.00 488.03,231.03 492.78,232.45 497.03,233.55 503.03,234.85 510.53,236.24 518.78,237.61 526.30,238.70" stroke="#d63c44" stroke-width="2.15"/><path d="M363.9,201.6 385.2,202.8 397.7,204.0 406.6,205.3 413.5,206.4 419.1,207.3 423.8,208.0 427.9,208.6 431.6,209.1 434.8,209.7 437.7,210.3 440.4,210.8 442.9,211.4 445.2,211.9 447.3,212.5 449.3,213.0 451.2,213.6 452.9,214.3 454.6,214.9 456.2,215.6 457.7,216.3 459.1,217.0 460.5,217.9 461.8,218.9 463.0,219.8 464.2,220.7 465.4,221.4 466.5,222.1" stroke="none" marker-start="url(#m2)" marker-mid="url(#m2)" marker-end="url(#m2)"/><path d="M314.40,199.80 334.15,200.45 353.90,201.29 378.15,202.56 385.15,203.03 391.15,203.53 397.40,204.29 404.90,205.48 428.90,209.71 442.56,212.39" stroke="#34a15b" stroke-width="1.05" stroke-dasharray="2.6 1 0.8 1" stroke-linecap="butt"/><path d="M442.25,212.32 445.75,213.14 448.75,213.97 451.00,214.77 455.05,216.42" stroke="#34a15b" stroke-width="1.25"/><path d="M454.74,216.30 459.74,218.32 465.78,221.36" stroke="#34a15b" stroke-width="1.55"/><path d="M465.47,221.20 468.22,222.59 470.47,223.64 472.97,224.71 475.09,225.51" stroke="#34a15b" stroke-width="1.85"/><path d="M474.78,225.40 477.28,226.23 491.53,230.65 495.03,231.65 498.78,232.58 505.03,233.96 511.78,235.26 519.28,236.55 526.30,237.60" stroke="#34a15b" stroke-width="2.15"/><path d="M363.9,201.8 385.2,203.0 397.7,204.3 406.6,205.8 413.5,207.0 419.1,208.0 423.8,208.8 427.9,209.5 431.6,210.2 434.8,210.8 437.7,211.4 440.4,211.9 442.9,212.5 445.2,213.0 447.3,213.5 449.3,214.1 451.2,214.8 452.9,215.6 454.6,216.2 456.2,216.9 457.7,217.4 459.1,218.0 460.5,218.7 461.8,219.3 463.0,220.0 464.2,220.6 465.4,221.2 466.5,221.7" stroke="none" marker-start="url(#m3)" marker-mid="url(#m3)" marker-end="url(#m3)"/><path d="M314.40,199.90 330.90,200.42 349.15,201.19 378.90,202.84 385.65,203.31 391.40,203.81 397.90,204.66 405.40,205.96 425.90,209.91 442.56,213.39" stroke="#2b63c4" stroke-width="1.05" stroke-dasharray="1.0 1.0" stroke-linecap="butt"/><path d="M442.25,213.32 445.75,214.15 448.75,214.96 450.75,215.63 455.05,217.22" stroke="#2b63c4" stroke-width="1.25"/><path d="M454.74,217.11 462.99,220.04 465.78,221.09" stroke="#2b63c4" stroke-width="1.55"/><path d="M465.47,220.97 469.47,222.49 475.09,224.29" stroke="#2b63c4" stroke-width="1.85"/><path d="M474.78,224.19 481.28,226.24 490.03,228.81 495.28,230.22 501.78,231.79 507.78,233.10 513.28,234.13 520.03,235.24 526.30,236.10" stroke="#2b63c4" stroke-width="2.15"/><path d="M363.9,202.0 385.2,203.3 397.7,204.6 406.6,206.2 413.5,207.5 419.1,208.6 423.8,209.5 427.9,210.3 431.6,211.1 434.8,211.8 437.7,212.4 440.4,212.9 442.9,213.5 445.2,214.0 447.3,214.6 449.3,215.1 451.2,215.8 452.9,216.4 454.6,217.1 456.2,217.6 457.7,218.1 459.1,218.7 460.5,219.1 461.8,219.6 463.0,220.1 464.2,220.5 465.4,220.9 466.5,221.4" stroke="none" marker-start="url(#m4)" marker-mid="url(#m4)" marker-end="url(#m4)"/><path d="M314.40,199.90 330.90,200.54 348.65,201.40 379.40,203.22 385.65,203.68 391.15,204.20 395.90,204.85 401.40,205.84 416.40,209.05 430.15,211.78 442.56,214.40" stroke="#3db5d6" stroke-width="1.05" stroke-dasharray="1.0 1.0" stroke-linecap="butt"/><path d="M442.25,214.33 445.75,215.15 448.75,215.96 455.05,218.11" stroke="#3db5d6" stroke-width="1.25"/><path d="M454.74,218.02 459.24,219.33 465.78,220.77" stroke="#3db5d6" stroke-width="1.55"/><path d="M465.47,220.70 469.72,221.77 473.72,223.24 475.09,223.68" stroke="#3db5d6" stroke-width="1.85"/><path d="M474.78,223.59 477.78,224.44 492.53,228.34 500.53,230.29 505.78,231.49 510.28,232.39 516.03,233.35 521.28,234.11 526.30,234.70" stroke="#3db5d6" stroke-width="2.15"/><path d="M363.9,202.3 385.2,203.6 397.7,205.2 406.6,206.9 413.5,208.4 419.1,209.6 423.8,210.5 427.9,211.3 431.6,212.1 434.8,212.8 437.7,213.4 440.4,213.9 442.9,214.5 445.2,215.0 447.3,215.6 449.3,216.1 451.2,216.8 452.9,217.4 454.6,218.0 456.2,218.5 457.7,218.9 459.1,219.3 460.5,219.6 461.8,219.9 463.0,220.2 464.2,220.4 465.4,220.7 466.5,220.9" stroke="none" marker-start="url(#m5)" marker-mid="url(#m5)" marker-end="url(#m5)"/></g>
<g clip-path="url(#c9)" fill="none" stroke-linejoin="round" stroke-linecap="round"><path d="M314.40,265.51 335.65,267.31 344.15,268.11 354.15,269.21 358.65,269.62 363.90,269.86 379.65,270.19 381.90,270.32 384.15,270.56 387.15,270.99 393.65,272.07 403.40,273.54 409.90,274.64 413.90,275.44 423.65,277.51 436.15,279.96 442.56,281.41" stroke="#cbab66" stroke-width="1.05" stroke-dasharray="1.5 1.2" stroke-linecap="butt"/><path d="M442.25,281.33 455.05,284.44" stroke="#cbab66" stroke-width="1.25"/><path d="M454.74,284.37 459.99,285.60 465.78,287.15" stroke="#cbab66" stroke-width="1.55"/><path d="M465.47,287.06 469.47,288.28 475.09,290.20" stroke="#cbab66" stroke-width="1.85"/><path d="M474.78,290.10 481.03,292.34 488.03,294.67 493.28,296.31 498.03,297.64 504.28,299.20 511.78,300.89 519.28,302.45 526.50,303.80" stroke="#cbab66" stroke-width="2.15"/><path d="M363.9,269.9 385.2,270.7 397.7,272.7 406.6,274.1 413.5,275.3 419.1,276.5 423.8,277.5 427.9,278.4 431.6,279.1 434.8,279.7 437.7,280.3 440.4,280.9 442.9,281.5 445.2,282.0 447.3,282.6 449.3,283.1 451.2,283.5 452.9,284.0 454.6,284.3 456.2,284.7 457.7,285.0 459.1,285.4 460.5,285.7 461.8,286.1 463.0,286.4 464.2,286.7 465.4,287.0 466.5,287.4" stroke="none" marker-start="url(#m0)" marker-mid="url(#m0)" marker-end="url(#m0)"/><path d="M314.40,265.00 334.90,266.03 345.15,266.63 361.65,267.78 378.65,268.62 383.15,268.93 388.40,269.40 405.40,271.16 413.15,272.11 419.65,273.00 424.40,273.73 428.90,274.53 442.56,277.31" stroke="#6860c8" stroke-width="1.05" stroke-dasharray="2.6 1.6" stroke-linecap="butt"/><path d="M442.25,277.24 449.50,278.87 452.75,279.71 455.05,280.40" stroke="#6860c8" stroke-width="1.25"/><path d="M454.74,280.30 460.74,282.37 465.78,284.35" stroke="#6860c8" stroke-width="1.55"/><path d="M465.47,284.22 468.72,285.65 475.09,288.78" stroke="#6860c8" stroke-width="1.85"/><path d="M474.78,288.63 480.28,291.17 484.78,292.96 491.03,295.19 497.53,297.24 504.03,299.03 510.78,300.67 519.03,302.43 526.50,303.80" stroke="#6860c8" stroke-width="2.15"/><path d="M363.9,267.9 385.2,269.1 397.7,270.3 406.6,271.3 413.5,272.1 419.1,272.9 423.8,273.6 427.9,274.3 431.6,275.0 434.8,275.7 437.7,276.3 440.4,276.9 442.9,277.4 445.2,277.9 447.3,278.3 449.3,278.8 451.2,279.3 452.9,279.8 454.6,280.3 456.2,280.8 457.7,281.3 459.1,281.8 460.5,282.3 461.8,282.8 463.0,283.2 464.2,283.7 465.4,284.2 466.5,284.7" stroke="none" marker-start="url(#m1)" marker-mid="url(#m1)" marker-end="url(#m1)"/><path d="M314.40,264.90 327.65,265.32 343.40,266.02 360.65,267.13 378.65,267.93 387.90,268.56 405.65,270.07 416.65,271.12 422.40,271.75 426.90,272.35 431.65,273.10 437.15,274.10 442.56,275.18" stroke="#d63c44" stroke-width="1.05"/><path d="M442.25,275.11 446.00,275.94 449.50,276.81 452.75,277.72 455.05,278.46" stroke="#d63c44" stroke-width="1.25"/><path d="M454.74,278.36 457.24,279.28 460.49,280.61 462.74,281.63 465.78,283.13" stroke="#d63c44" stroke-width="1.55"/><path d="M465.47,282.98 468.97,284.76 475.09,288.01" stroke="#d63c44" stroke-width="1.85"/><path d="M474.78,287.85 480.03,290.66 483.78,292.35 486.78,293.57 489.78,294.69 493.03,295.82 496.28,296.86 502.78,298.72 510.03,300.50 518.53,302.33 526.50,303.80" stroke="#d63c44" stroke-width="2.15"/><path d="M363.9,267.3 385.2,268.3 397.7,269.4 406.6,270.2 413.5,270.8 419.1,271.4 423.8,271.9 427.9,272.5 431.6,273.1 434.8,273.7 437.7,274.2 440.4,274.7 442.9,275.3 445.2,275.8 447.3,276.3 449.3,276.8 451.2,277.3 452.9,277.8 454.6,278.3 456.2,278.9 457.7,279.4 459.1,280.0 460.5,280.6 461.8,281.2 463.0,281.8 464.2,282.4 465.4,282.9 466.5,283.5" stroke="none" marker-start="url(#m2)" marker-mid="url(#m2)" marker-end="url(#m2)"/><path d="M314.40,264.80 327.90,265.25 343.90,265.94 361.65,266.98 380.40,267.82 392.65,268.66 406.40,269.84 416.65,270.83 422.90,271.51 428.15,272.19 433.15,272.94 437.90,273.74 442.56,274.64" stroke="#34a15b" stroke-width="1.05" stroke-dasharray="2.6 1 0.8 1" stroke-linecap="butt"/><path d="M442.25,274.57 445.75,275.32 449.25,276.16 452.75,277.12 455.05,277.85" stroke="#34a15b" stroke-width="1.25"/><path d="M454.74,277.75 457.49,278.76 460.49,280.01 462.74,281.09 465.78,282.69" stroke="#34a15b" stroke-width="1.55"/><path d="M465.47,282.52 468.97,284.40 475.09,287.83" stroke="#34a15b" stroke-width="1.85"/><path d="M474.78,287.66 480.03,290.63 483.28,292.15 486.03,293.29 489.03,294.44 492.28,295.58 495.53,296.63 502.28,298.58 509.53,300.39 518.28,302.28 526.50,303.80" stroke="#34a15b" stroke-width="2.15"/><path d="M363.9,267.1 385.2,268.1 397.7,269.1 406.6,269.9 413.5,270.5 419.1,271.1 423.8,271.6 427.9,272.2 431.6,272.7 434.8,273.2 437.7,273.7 440.4,274.2 442.9,274.7 445.2,275.2 447.3,275.7 449.3,276.2 451.2,276.7 452.9,277.2 454.6,277.7 456.2,278.3 457.7,278.8 459.1,279.4 460.5,280.0 461.8,280.6 463.0,281.2 464.2,281.9 465.4,282.5 466.5,283.1" stroke="none" marker-start="url(#m3)" marker-mid="url(#m3)" marker-end="url(#m3)"/><path d="M314.40,264.80 328.65,265.23 345.40,265.91 379.65,267.68 394.90,268.63 401.40,269.17 411.90,270.17 423.15,271.35 428.65,272.04 433.40,272.72 437.90,273.45 442.56,274.30" stroke="#2b63c4" stroke-width="1.05" stroke-dasharray="1.0 1.0" stroke-linecap="butt"/><path d="M442.25,274.24 446.00,275.01 449.50,275.84 452.75,276.72 455.05,277.47" stroke="#2b63c4" stroke-width="1.25"/><path d="M454.74,277.36 457.24,278.32 460.49,279.72 462.74,280.83 465.78,282.46" stroke="#2b63c4" stroke-width="1.55"/><path d="M465.47,282.30 468.97,284.23 475.09,287.74" stroke="#2b63c4" stroke-width="1.85"/><path d="M474.78,287.56 479.78,290.48 481.28,291.26 482.78,291.94 485.53,293.10 488.53,294.26 491.53,295.33 495.03,296.47 501.78,298.45 509.28,300.33 518.28,302.28 526.50,303.80" stroke="#2b63c4" stroke-width="2.15"/><path d="M363.9,266.9 385.2,268.0 397.7,268.9 406.6,269.7 413.5,270.3 419.1,270.9 423.8,271.4 427.9,271.9 431.6,272.4 434.8,272.9 437.7,273.4 440.4,273.9 442.9,274.4 445.2,274.8 447.3,275.3 449.3,275.8 451.2,276.3 452.9,276.8 454.6,277.3 456.2,277.9 457.7,278.5 459.1,279.1 460.5,279.7 461.8,280.3 463.0,281.0 464.2,281.6 465.4,282.3 466.5,282.9" stroke="none" marker-start="url(#m4)" marker-mid="url(#m4)" marker-end="url(#m4)"/><path d="M314.40,264.70 328.65,265.07 345.40,265.70 379.65,267.48 394.90,268.43 408.90,269.58 421.65,270.87 432.90,272.29 437.40,272.97 442.56,273.85" stroke="#3db5d6" stroke-width="1.05" stroke-dasharray="1.0 1.0" stroke-linecap="butt"/><path d="M442.25,273.79 446.00,274.51 449.50,275.28 452.75,276.11 455.05,276.85" stroke="#3db5d6" stroke-width="1.25"/><path d="M454.74,276.74 457.49,277.80 460.49,279.13 462.74,280.32 465.78,282.11" stroke="#3db5d6" stroke-width="1.55"/><path d="M465.47,281.92 475.09,287.54" stroke="#3db5d6" stroke-width="1.85"/><path d="M474.78,287.36 479.78,290.27 481.28,291.05 483.28,291.98 486.28,293.26 489.28,294.45 492.28,295.54 495.53,296.63 502.03,298.53 509.28,300.33 518.28,302.28 526.50,303.80" stroke="#3db5d6" stroke-width="2.15"/><path d="M363.9,266.7 385.2,267.8 397.7,268.6 406.6,269.4 413.5,270.0 419.1,270.6 423.8,271.1 427.9,271.6 431.6,272.1 434.8,272.6 437.7,273.0 440.4,273.5 442.9,273.9 445.2,274.3 447.3,274.8 449.3,275.2 451.2,275.7 452.9,276.2 454.6,276.7 456.2,277.3 457.7,277.9 459.1,278.5 460.5,279.1 461.8,279.8 463.0,280.5 464.2,281.2 465.4,281.9 466.5,282.6" stroke="none" marker-start="url(#m5)" marker-mid="url(#m5)" marker-end="url(#m5)"/></g>
<line x1="30.8" y1="39.7" x2="49" y2="39.7" stroke="#cbab66" stroke-width="0.9" stroke-dasharray="0.6 0.9"/><circle cx="39.9" cy="39.7" r="0.8" fill="#cbab66"/><text transform="translate(52.10,41.90) scale(1,1.15)" class="lg">R=10</text><line x1="30.8" y1="47.1" x2="49" y2="47.1" stroke="#6860c8" stroke-width="1.2" stroke-dasharray="3.5 3.5"/><circle cx="39.9" cy="47.1" r="0.8" fill="#6860c8"/><text transform="translate(52.10,49.30) scale(1,1.15)" class="lg">R=20</text><line x1="69" y1="39.7" x2="87.8" y2="39.7" stroke="#d63c44" stroke-width="0.9"/><circle cx="78.4" cy="39.7" r="0.8" fill="#d63c44"/><text transform="translate(89.40,41.90) scale(1,1.15)" class="lg">R=25</text><line x1="69" y1="47.1" x2="87.8" y2="47.1" stroke="#34a15b" stroke-width="1.0" stroke-dasharray="2.3 0.9 0.6 0.9"/><circle cx="78.4" cy="47.1" r="0.8" fill="#34a15b"/><text transform="translate(89.40,49.30) scale(1,1.15)" class="lg">R=30</text><line x1="105.5" y1="39.7" x2="124" y2="39.7" stroke="#2b63c4" stroke-width="0.9" stroke-dasharray="0.6 0.9"/><circle cx="114.75" cy="39.7" r="0.8" fill="#2b63c4"/><text transform="translate(127.30,41.90) scale(1,1.15)" class="lg">R=50</text><line x1="105.5" y1="47.1" x2="124" y2="47.1" stroke="#3db5d6" stroke-width="0.9" stroke-dasharray="0.6 0.9"/><circle cx="114.75" cy="47.1" r="0.8" fill="#3db5d6"/><text transform="translate(127.30,49.30) scale(1,1.15)" class="lg">R=100</text>
<line x1="32.4" y1="103.7" x2="49.8" y2="103.7" stroke="#cbab66" stroke-width="0.9" stroke-dasharray="0.6 0.9"/><circle cx="41.1" cy="103.7" r="0.8" fill="#cbab66"/><text transform="translate(52.20,105.90) scale(1,1.15)" class="lg"><tspan class="gk">σ</tspan>=0.9</text><line x1="32.4" y1="110.7" x2="49.8" y2="110.7" stroke="#6860c8" stroke-width="1.2" stroke-dasharray="3.5 3.5"/><circle cx="41.1" cy="110.7" r="0.8" fill="#6860c8"/><text transform="translate(52.20,112.90) scale(1,1.15)" class="lg"><tspan class="gk">σ</tspan>=0.8</text><line x1="71" y1="103.7" x2="88" y2="103.7" stroke="#d63c44" stroke-width="0.9"/><circle cx="79.5" cy="103.7" r="0.8" fill="#d63c44"/><text transform="translate(90.80,105.90) scale(1,1.15)" class="lg"><tspan class="gk">σ</tspan>=0.8</text><line x1="71" y1="110.7" x2="88" y2="110.7" stroke="#34a15b" stroke-width="1.0" stroke-dasharray="2.3 0.9 0.6 0.9"/><circle cx="79.5" cy="110.7" r="0.8" fill="#34a15b"/><text transform="translate(90.80,112.90) scale(1,1.15)" class="lg"><tspan class="gk">σ</tspan>=0.5</text><line x1="109.8" y1="103.7" x2="127.3" y2="103.7" stroke="#2b63c4" stroke-width="0.9" stroke-dasharray="0.6 0.9"/><circle cx="118.55" cy="103.7" r="0.8" fill="#2b63c4"/><text transform="translate(130.10,105.90) scale(1,1.15)" class="lg"><tspan class="gk">σ</tspan>=0.4</text><line x1="109.8" y1="110.7" x2="127.3" y2="110.7" stroke="#3db5d6" stroke-width="0.9" stroke-dasharray="0.6 0.9"/><circle cx="118.55" cy="110.7" r="0.8" fill="#3db5d6"/><text transform="translate(130.10,112.90) scale(1,1.15)" class="lg"><tspan class="gk">σ</tspan>=0.3</text>
<line x1="32.4" y1="169.4" x2="49.8" y2="169.4" stroke="#cbab66" stroke-width="0.9" stroke-dasharray="0.6 0.9"/><circle cx="41.1" cy="169.4" r="0.8" fill="#cbab66"/><text transform="translate(51.90,171.60) scale(1,1.15)" class="lg"><tspan class="gk">α</tspan>=3</text><line x1="32.4" y1="176.4" x2="49.8" y2="176.4" stroke="#6860c8" stroke-width="1.2" stroke-dasharray="3.5 3.5"/><circle cx="41.1" cy="176.4" r="0.8" fill="#6860c8"/><text transform="translate(51.90,178.60) scale(1,1.15)" class="lg"><tspan class="gk">α</tspan>=5</text><line x1="66.8" y1="169.4" x2="84.3" y2="169.4" stroke="#d63c44" stroke-width="0.9"/><circle cx="75.55" cy="169.4" r="0.8" fill="#d63c44"/><text transform="translate(86.40,171.60) scale(1,1.15)" class="lg"><tspan class="gk">α</tspan>=7</text><line x1="66.8" y1="176.4" x2="84.3" y2="176.4" stroke="#34a15b" stroke-width="1.0" stroke-dasharray="2.3 0.9 0.6 0.9"/><circle cx="75.55" cy="176.4" r="0.8" fill="#34a15b"/><text transform="translate(86.40,178.60) scale(1,1.15)" class="lg"><tspan class="gk">α</tspan>=9</text><line x1="101.1" y1="169.4" x2="118.6" y2="169.4" stroke="#2b63c4" stroke-width="0.9" stroke-dasharray="0.6 0.9"/><circle cx="109.85" cy="169.4" r="0.8" fill="#2b63c4"/><text transform="translate(122.00,171.60) scale(1,1.15)" class="lg"><tspan class="gk">α</tspan>=12</text><line x1="101.1" y1="176.4" x2="118.6" y2="176.4" stroke="#3db5d6" stroke-width="0.9" stroke-dasharray="0.6 0.9"/><circle cx="109.85" cy="176.4" r="0.8" fill="#3db5d6"/><text transform="translate(122.00,178.60) scale(1,1.15)" class="lg"><tspan class="gk">α</tspan>=15</text>
<line x1="32.4" y1="235.2" x2="49.8" y2="235.2" stroke="#cbab66" stroke-width="0.9" stroke-dasharray="0.6 0.9"/><circle cx="41.1" cy="235.2" r="0.8" fill="#cbab66"/><text transform="translate(51.50,237.40) scale(1,1.15)" class="lg"><tspan class="gk">γ</tspan>=5</text><line x1="32.4" y1="242.4" x2="49.8" y2="242.4" stroke="#6860c8" stroke-width="1.2" stroke-dasharray="3.5 3.5"/><circle cx="41.1" cy="242.4" r="0.8" fill="#6860c8"/><text transform="translate(51.50,244.60) scale(1,1.15)" class="lg"><tspan class="gk">γ</tspan>=7</text><line x1="65.5" y1="235.2" x2="83.6" y2="235.2" stroke="#d63c44" stroke-width="0.9"/><circle cx="74.55" cy="235.2" r="0.8" fill="#d63c44"/><text transform="translate(85.80,237.40) scale(1,1.15)" class="lg"><tspan class="gk">γ</tspan>=9</text><line x1="65.5" y1="242.4" x2="83.6" y2="242.4" stroke="#34a15b" stroke-width="1.0" stroke-dasharray="2.3 0.9 0.6 0.9"/><circle cx="74.55" cy="242.4" r="0.8" fill="#34a15b"/><text transform="translate(85.80,244.60) scale(1,1.15)" class="lg"><tspan class="gk">γ</tspan>=12</text><line x1="101.8" y1="235.2" x2="119.6" y2="235.2" stroke="#2b63c4" stroke-width="0.9" stroke-dasharray="0.6 0.9"/><circle cx="110.7" cy="235.2" r="0.8" fill="#2b63c4"/><text transform="translate(123.50,237.40) scale(1,1.15)" class="lg"><tspan class="gk">γ</tspan>=15</text><line x1="101.8" y1="242.4" x2="119.6" y2="242.4" stroke="#3db5d6" stroke-width="0.9" stroke-dasharray="0.6 0.9"/><circle cx="110.7" cy="242.4" r="0.8" fill="#3db5d6"/><text transform="translate(123.50,244.60) scale(1,1.15)" class="lg"><tspan class="gk">γ</tspan>=18</text>
<line x1="32.4" y1="301.2" x2="49.8" y2="301.2" stroke="#cbab66" stroke-width="0.9" stroke-dasharray="0.6 0.9"/><circle cx="41.1" cy="301.2" r="0.8" fill="#cbab66"/><text transform="translate(51.50,303.40) scale(1,1.15)" class="lg"><tspan class="gk">β</tspan>=1</text><line x1="32.4" y1="308.1" x2="49.8" y2="308.1" stroke="#6860c8" stroke-width="1.2" stroke-dasharray="3.5 3.5"/><circle cx="41.1" cy="308.1" r="0.8" fill="#6860c8"/><text transform="translate(51.50,310.30) scale(1,1.15)" class="lg"><tspan class="gk">β</tspan>=2</text><line x1="66.2" y1="301.2" x2="84.3" y2="301.2" stroke="#d63c44" stroke-width="0.9"/><circle cx="75.25" cy="301.2" r="0.8" fill="#d63c44"/><text transform="translate(86.40,303.40) scale(1,1.15)" class="lg"><tspan class="gk">β</tspan>=4</text><line x1="66.2" y1="308.1" x2="84.3" y2="308.1" stroke="#34a15b" stroke-width="1.0" stroke-dasharray="2.3 0.9 0.6 0.9"/><circle cx="75.25" cy="308.1" r="0.8" fill="#34a15b"/><text transform="translate(86.40,310.30) scale(1,1.15)" class="lg"><tspan class="gk">β</tspan>=6</text><line x1="100" y1="301.2" x2="118.6" y2="301.2" stroke="#2b63c4" stroke-width="0.9" stroke-dasharray="0.6 0.9"/><circle cx="109.3" cy="301.2" r="0.8" fill="#2b63c4"/><text transform="translate(121.30,303.40) scale(1,1.15)" class="lg"><tspan class="gk">β</tspan>=8</text><line x1="100" y1="308.1" x2="118.6" y2="308.1" stroke="#3db5d6" stroke-width="0.9" stroke-dasharray="0.6 0.9"/><circle cx="109.3" cy="308.1" r="0.8" fill="#3db5d6"/><text transform="translate(121.30,310.30) scale(1,1.15)" class="lg"><tspan class="gk">β</tspan>=12</text>
<line x1="320.4" y1="42.8" x2="337.8" y2="42.8" stroke="#cbab66" stroke-width="0.9" stroke-dasharray="0.6 0.9"/><circle cx="329.1" cy="42.8" r="0.8" fill="#cbab66"/><text transform="translate(340.60,45.00) scale(1,1.15)" class="lg">R=10</text><line x1="320.4" y1="50" x2="337.8" y2="50" stroke="#6860c8" stroke-width="1.2" stroke-dasharray="3.5 3.5"/><circle cx="329.1" cy="50" r="0.8" fill="#6860c8"/><text transform="translate(340.60,52.20) scale(1,1.15)" class="lg">R=20</text><line x1="357.5" y1="42.8" x2="374.9" y2="42.8" stroke="#d63c44" stroke-width="0.9"/><circle cx="366.2" cy="42.8" r="0.8" fill="#d63c44"/><text transform="translate(377.30,45.00) scale(1,1.15)" class="lg">R=25</text><line x1="357.5" y1="50" x2="374.9" y2="50" stroke="#34a15b" stroke-width="1.0" stroke-dasharray="2.3 0.9 0.6 0.9"/><circle cx="366.2" cy="50" r="0.8" fill="#34a15b"/><text transform="translate(377.30,52.20) scale(1,1.15)" class="lg">R=30</text><line x1="393.5" y1="42.8" x2="410.9" y2="42.8" stroke="#2b63c4" stroke-width="0.9" stroke-dasharray="0.6 0.9"/><circle cx="402.2" cy="42.8" r="0.8" fill="#2b63c4"/><text transform="translate(413.70,45.00) scale(1,1.15)" class="lg">R=50</text><line x1="393.5" y1="50" x2="410.9" y2="50" stroke="#3db5d6" stroke-width="0.9" stroke-dasharray="0.6 0.9"/><circle cx="402.2" cy="50" r="0.8" fill="#3db5d6"/><text transform="translate(413.70,52.20) scale(1,1.15)" class="lg">R=100</text>
<line x1="320.4" y1="105.9" x2="337.8" y2="105.9" stroke="#cbab66" stroke-width="0.9" stroke-dasharray="0.6 0.9"/><circle cx="329.1" cy="105.9" r="0.8" fill="#cbab66"/><text transform="translate(340.20,108.10) scale(1,1.15)" class="lg"><tspan class="gk">σ</tspan>=0.9</text><line x1="320.4" y1="113.5" x2="337.8" y2="113.5" stroke="#6860c8" stroke-width="1.2" stroke-dasharray="3.5 3.5"/><circle cx="329.1" cy="113.5" r="0.8" fill="#6860c8"/><text transform="translate(340.20,115.70) scale(1,1.15)" class="lg"><tspan class="gk">σ</tspan>=0.8</text><line x1="358.5" y1="105.9" x2="376" y2="105.9" stroke="#d63c44" stroke-width="0.9"/><circle cx="367.25" cy="105.9" r="0.8" fill="#d63c44"/><text transform="translate(378.40,108.10) scale(1,1.15)" class="lg"><tspan class="gk">σ</tspan>=0.8</text><line x1="358.5" y1="113.5" x2="376" y2="113.5" stroke="#34a15b" stroke-width="1.0" stroke-dasharray="2.3 0.9 0.6 0.9"/><circle cx="367.25" cy="113.5" r="0.8" fill="#34a15b"/><text transform="translate(378.40,115.70) scale(1,1.15)" class="lg"><tspan class="gk">σ</tspan>=0.5</text><line x1="396.3" y1="105.9" x2="414.2" y2="105.9" stroke="#2b63c4" stroke-width="0.9" stroke-dasharray="0.6 0.9"/><circle cx="405.25" cy="105.9" r="0.8" fill="#2b63c4"/><text transform="translate(416.60,108.10) scale(1,1.15)" class="lg"><tspan class="gk">σ</tspan>=0.4</text><line x1="396.3" y1="113.5" x2="414.2" y2="113.5" stroke="#3db5d6" stroke-width="0.9" stroke-dasharray="0.6 0.9"/><circle cx="405.25" cy="113.5" r="0.8" fill="#3db5d6"/><text transform="translate(416.60,115.70) scale(1,1.15)" class="lg"><tspan class="gk">σ</tspan>=0.3</text>
<line x1="320.4" y1="168.3" x2="337.8" y2="168.3" stroke="#cbab66" stroke-width="0.9" stroke-dasharray="0.6 0.9"/><circle cx="329.1" cy="168.3" r="0.8" fill="#cbab66"/><text transform="translate(340.20,170.50) scale(1,1.15)" class="lg"><tspan class="gk">α</tspan>=3</text><line x1="320.4" y1="175.9" x2="337.8" y2="175.9" stroke="#6860c8" stroke-width="1.2" stroke-dasharray="3.5 3.5"/><circle cx="329.1" cy="175.9" r="0.8" fill="#6860c8"/><text transform="translate(340.20,178.10) scale(1,1.15)" class="lg"><tspan class="gk">α</tspan>=5</text><line x1="354.8" y1="168.3" x2="372.3" y2="168.3" stroke="#d63c44" stroke-width="0.9"/><circle cx="363.55" cy="168.3" r="0.8" fill="#d63c44"/><text transform="translate(374.40,170.50) scale(1,1.15)" class="lg"><tspan class="gk">α</tspan>=7</text><line x1="354.8" y1="175.9" x2="372.3" y2="175.9" stroke="#34a15b" stroke-width="1.0" stroke-dasharray="2.3 0.9 0.6 0.9"/><circle cx="363.55" cy="175.9" r="0.8" fill="#34a15b"/><text transform="translate(374.40,178.10) scale(1,1.15)" class="lg"><tspan class="gk">α</tspan>=9</text><line x1="388" y1="168.3" x2="405.5" y2="168.3" stroke="#2b63c4" stroke-width="0.9" stroke-dasharray="0.6 0.9"/><circle cx="396.75" cy="168.3" r="0.8" fill="#2b63c4"/><text transform="translate(408.20,170.50) scale(1,1.15)" class="lg"><tspan class="gk">α</tspan>=12</text><line x1="388" y1="175.9" x2="405.5" y2="175.9" stroke="#3db5d6" stroke-width="0.9" stroke-dasharray="0.6 0.9"/><circle cx="396.75" cy="175.9" r="0.8" fill="#3db5d6"/><text transform="translate(408.20,178.10) scale(1,1.15)" class="lg"><tspan class="gk">α</tspan>=15</text>
<line x1="320.4" y1="232.3" x2="337.8" y2="232.3" stroke="#cbab66" stroke-width="0.9" stroke-dasharray="0.6 0.9"/><circle cx="329.1" cy="232.3" r="0.8" fill="#cbab66"/><text transform="translate(340.60,234.50) scale(1,1.15)" class="lg"><tspan class="gk">γ</tspan>=5</text><line x1="320.4" y1="239.9" x2="337.8" y2="239.9" stroke="#6860c8" stroke-width="1.2" stroke-dasharray="3.5 3.5"/><circle cx="329.1" cy="239.9" r="0.8" fill="#6860c8"/><text transform="translate(340.60,242.10) scale(1,1.15)" class="lg"><tspan class="gk">γ</tspan>=7</text><line x1="354.2" y1="232.3" x2="371.6" y2="232.3" stroke="#d63c44" stroke-width="0.9"/><circle cx="362.9" cy="232.3" r="0.8" fill="#d63c44"/><text transform="translate(373.80,234.50) scale(1,1.15)" class="lg"><tspan class="gk">γ</tspan>=9</text><line x1="354.2" y1="239.9" x2="371.6" y2="239.9" stroke="#34a15b" stroke-width="1.0" stroke-dasharray="2.3 0.9 0.6 0.9"/><circle cx="362.9" cy="239.9" r="0.8" fill="#34a15b"/><text transform="translate(373.80,242.10) scale(1,1.15)" class="lg"><tspan class="gk">γ</tspan>=12</text><line x1="389.1" y1="232.3" x2="407.2" y2="232.3" stroke="#2b63c4" stroke-width="0.9" stroke-dasharray="0.6 0.9"/><circle cx="398.15" cy="232.3" r="0.8" fill="#2b63c4"/><text transform="translate(410.00,234.50) scale(1,1.15)" class="lg"><tspan class="gk">γ</tspan>=15</text><line x1="389.1" y1="239.9" x2="407.2" y2="239.9" stroke="#3db5d6" stroke-width="0.9" stroke-dasharray="0.6 0.9"/><circle cx="398.15" cy="239.9" r="0.8" fill="#3db5d6"/><text transform="translate(410.00,242.10) scale(1,1.15)" class="lg"><tspan class="gk">γ</tspan>=18</text>
<line x1="320.4" y1="295.9" x2="337.8" y2="295.9" stroke="#cbab66" stroke-width="0.9" stroke-dasharray="0.6 0.9"/><circle cx="329.1" cy="295.9" r="0.8" fill="#cbab66"/><text transform="translate(340.20,298.10) scale(1,1.15)" class="lg"><tspan class="gk">β</tspan>=1</text><line x1="320.4" y1="303.5" x2="337.8" y2="303.5" stroke="#6860c8" stroke-width="1.2" stroke-dasharray="3.5 3.5"/><circle cx="329.1" cy="303.5" r="0.8" fill="#6860c8"/><text transform="translate(340.20,305.70) scale(1,1.15)" class="lg"><tspan class="gk">β</tspan>=2</text><line x1="354.2" y1="295.9" x2="371.6" y2="295.9" stroke="#d63c44" stroke-width="0.9"/><circle cx="362.9" cy="295.9" r="0.8" fill="#d63c44"/><text transform="translate(373.80,298.10) scale(1,1.15)" class="lg"><tspan class="gk">β</tspan>=4</text><line x1="354.2" y1="303.5" x2="371.6" y2="303.5" stroke="#34a15b" stroke-width="1.0" stroke-dasharray="2.3 0.9 0.6 0.9"/><circle cx="362.9" cy="303.5" r="0.8" fill="#34a15b"/><text transform="translate(373.80,305.70) scale(1,1.15)" class="lg"><tspan class="gk">β</tspan>=6</text><line x1="388" y1="295.9" x2="405.5" y2="295.9" stroke="#2b63c4" stroke-width="0.9" stroke-dasharray="0.6 0.9"/><circle cx="396.75" cy="295.9" r="0.8" fill="#2b63c4"/><text transform="translate(407.80,298.10) scale(1,1.15)" class="lg"><tspan class="gk">β</tspan>=8</text><line x1="388" y1="303.5" x2="405.5" y2="303.5" stroke="#3db5d6" stroke-width="0.9" stroke-dasharray="0.6 0.9"/><circle cx="396.75" cy="303.5" r="0.8" fill="#3db5d6"/><text transform="translate(407.80,305.70) scale(1,1.15)" class="lg"><tspan class="gk">β</tspan>=12</text>
<text transform="translate(141.60,331.00) scale(1,1.0)" class="lab">rad./s</text>
<text transform="translate(428.40,325.80) scale(1,1.0)" class="lab">rad./s</text>
<text x="133.5" y="348.2" class="big">(<tspan font-weight="bold">a</tspan>)</text>
<text x="415.2" y="348.2" class="big">(<tspan font-weight="bold">b</tspan>)</text>
</svg></body></html>
